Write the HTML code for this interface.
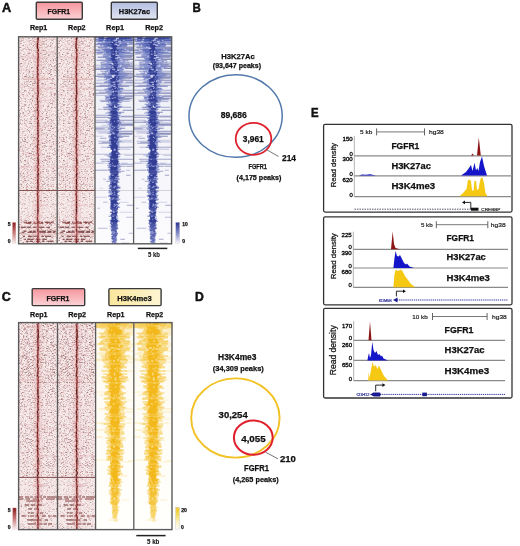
<!DOCTYPE html>
<html><head><meta charset="utf-8"><title>Figure</title>
<style>
html,body{margin:0;padding:0;background:#fff;}
body{width:520px;height:546px;overflow:hidden;}
svg{display:block;font-family:"Liberation Sans", Arial, sans-serif;}
</style></head>
<body>
<svg width="520" height="546" viewBox="0 0 520 546">
<rect width="520" height="546" fill="#fff"/>

<defs>
<filter id="spkM" x="0" y="0" width="100%" height="100%" color-interpolation-filters="sRGB">
  <feTurbulence type="fractalNoise" baseFrequency="0.8 1.4" numOctaves="2" seed="4" result="n1"/>
  <feColorMatrix in="n1" type="matrix" values="0 0 0 0 0.88  0 0 0 0 0.64  0 0 0 0 0.64  1.6 0 0 0 -0.72" result="pink"/>
  <feTurbulence type="fractalNoise" baseFrequency="0.5 1.3" numOctaves="2" seed="54" result="n2"/>
  <feColorMatrix in="n2" type="matrix" values="0 0 0 0 0.55  0 0 0 0 0.36  0 0 0 0 0.36  2.4 0 0 0 -1.25" result="dark"/>
  <feMerge><feMergeNode in="pink"/><feMergeNode in="dark"/></feMerge>
  <feGaussianBlur stdDeviation="0.3"/>
</filter>
<filter id="spkD" x="0" y="0" width="100%" height="100%" color-interpolation-filters="sRGB">
  <feTurbulence type="fractalNoise" baseFrequency="0.8 1.4" numOctaves="2" seed="9" result="n1"/>
  <feColorMatrix in="n1" type="matrix" values="0 0 0 0 0.88  0 0 0 0 0.64  0 0 0 0 0.64  1.9 0 0 0 -0.85" result="pink"/>
  <feTurbulence type="fractalNoise" baseFrequency="0.5 1.3" numOctaves="2" seed="59" result="n2"/>
  <feColorMatrix in="n2" type="matrix" values="0 0 0 0 0.55  0 0 0 0 0.36  0 0 0 0 0.36  2.6 0 0 0 -1.28" result="dark"/>
  <feMerge><feMergeNode in="pink"/><feMergeNode in="dark"/></feMerge>
  <feGaussianBlur stdDeviation="0.3"/>
</filter>
<filter id="spkL" x="0" y="0" width="100%" height="100%" color-interpolation-filters="sRGB">
  <feTurbulence type="fractalNoise" baseFrequency="0.8 1.4" numOctaves="2" seed="6" result="n1"/>
  <feColorMatrix in="n1" type="matrix" values="0 0 0 0 0.88  0 0 0 0 0.64  0 0 0 0 0.64  1.3 0 0 0 -0.59" result="pink"/>
  <feTurbulence type="fractalNoise" baseFrequency="0.5 1.3" numOctaves="2" seed="56" result="n2"/>
  <feColorMatrix in="n2" type="matrix" values="0 0 0 0 0.55  0 0 0 0 0.36  0 0 0 0 0.36  2.2 0 0 0 -1.22" result="dark"/>
  <feMerge><feMergeNode in="pink"/><feMergeNode in="dark"/></feMerge>
  <feGaussianBlur stdDeviation="0.3"/>
</filter>
<linearGradient id="bAg" x1="0" x2="1" y1="0" y2="0">
  <stop offset="0" stop-color="#5060b8" stop-opacity="0"/>
  <stop offset="0.35" stop-color="#5565bb" stop-opacity="0.8"/>
  <stop offset="0.5" stop-color="#2c3c9c" stop-opacity="1"/>
  <stop offset="0.65" stop-color="#5565bb" stop-opacity="0.8"/>
  <stop offset="1" stop-color="#5060b8" stop-opacity="0"/>
</linearGradient>
<linearGradient id="yCg" x1="0" x2="1" y1="0" y2="0">
  <stop offset="0" stop-color="#f5c020" stop-opacity="0"/>
  <stop offset="0.35" stop-color="#f5c020" stop-opacity="0.85"/>
  <stop offset="0.5" stop-color="#f0b000" stop-opacity="1"/>
  <stop offset="0.65" stop-color="#f5c020" stop-opacity="0.85"/>
  <stop offset="1" stop-color="#f5c020" stop-opacity="0"/>
</linearGradient>
<filter id="soft" x="-2%" y="-2%" width="104%" height="104%"><feGaussianBlur stdDeviation="0.45"/></filter>
<linearGradient id="bgB" x1="0" x2="0" y1="0" y2="1">
  <stop offset="0" stop-color="#ecedf6"/><stop offset="0.5" stop-color="#f3f3f9"/><stop offset="1" stop-color="#fcfcfe"/>
</linearGradient>
<linearGradient id="bgY" x1="0" x2="0" y1="0" y2="1">
  <stop offset="0" stop-color="#fdfaee"/><stop offset="1" stop-color="#fffffd"/>
</linearGradient>
<linearGradient id="pinkbox" x1="0" x2="0" y1="0" y2="1">
  <stop offset="0" stop-color="#f5959c"/><stop offset="1" stop-color="#fbd3d6"/>
</linearGradient>
<linearGradient id="bluebox" x1="0" x2="0" y1="0" y2="1">
  <stop offset="0" stop-color="#b4bde0"/><stop offset="1" stop-color="#e2e6f4"/>
</linearGradient>
<linearGradient id="yelbox" x1="0" x2="1" y1="0" y2="0">
  <stop offset="0" stop-color="#fae79c"/><stop offset="1" stop-color="#fdf4d2"/>
</linearGradient>
<linearGradient id="cbR" x1="0" x2="0" y1="0" y2="1">
  <stop offset="0" stop-color="#8a1c1c"/><stop offset="0.5" stop-color="#c87a7a"/><stop offset="1" stop-color="#f8eeee"/>
</linearGradient>
<linearGradient id="cbB" x1="0" x2="0" y1="0" y2="1">
  <stop offset="0" stop-color="#2a3590"/><stop offset="0.5" stop-color="#8088c8"/><stop offset="1" stop-color="#f6f6fc"/>
</linearGradient>
<linearGradient id="cbY" x1="0" x2="0" y1="0" y2="1">
  <stop offset="0" stop-color="#f0c828"/><stop offset="0.35" stop-color="#f4dc60"/><stop offset="0.7" stop-color="#fbf2c8"/><stop offset="1" stop-color="#fdfcf4"/>
</linearGradient>
<g id="rA">
<rect x="0" y="0" width="38.5" height="207" fill="#f7eded"/>
<rect x="0" y="0" width="38.5" height="154" filter="url(#spkM)"/>
<rect x="0" y="154" width="38.5" height="31" filter="url(#spkL)"/>
<rect x="0" y="185" width="38.5" height="22" filter="url(#spkM)"/>
<path fill="#ecd0d0" d="M22.7 15h15.4v1h-15.4zM0.8 20h33.6v1h-33.6zM18.4 54h6.9v1h-6.9zM20.0 63h18.2v1h-18.2zM22.2 102h6.9v1h-6.9zM0.4 130h35.0v1h-35.0z"/>
<path fill="#e6c4c4" d="M10.7 21h14.5v1h-14.5zM9.5 51h27.1v1h-27.1zM9.5 118h10.2v1h-10.2zM13.8 132h5.5v1h-5.5zM13.9 168h13.9v1h-13.9zM1.5 197h36.4v1h-36.4z"/>
<path fill="#dcb4b4" d="M4.8 42h31.0v1h-31.0z"/>
<path fill="#884040" d="M5.0 185h3.5v1h-3.5zM9.5 185h1.3v1h-1.3zM10.8 185h2.1v1h-2.1zM14.9 185h1.2v1h-1.2zM19.1 185h2.1v1h-2.1zM22.2 185h2.2v1h-2.2zM26.4 185h1.1v1h-1.1zM27.5 185h2.6v1h-2.6zM30.1 185h1.1v1h-1.1zM32.2 185h1.9v1h-1.9zM34.2 185h0.8v1h-0.8zM7.5 186h1.5v1h-1.5zM9.0 186h3.5v1h-3.5zM15.5 186h3.6v1h-3.6zM20.1 186h4.8v1h-4.8zM27.9 186h1.8v1h-1.8zM30.7 186h2.0v1h-2.0z"/>
<path fill="#6a3030" d="M0.2 190h1.0v1h-1.0zM2.3 190h3.1v1h-3.1zM5.4 190h1.7v1h-1.7zM8.1 190h4.1v1h-4.1zM14.2 190h3.8v1h-3.8zM20.0 190h3.0v1h-3.0zM23.0 190h2.6v1h-2.6zM28.6 190h2.7v1h-2.7zM5.2 194h2.6v1h-2.6zM10.8 194h2.6v1h-2.6zM14.4 194h2.8v1h-2.8zM20.2 194h4.5v1h-4.5zM24.7 194h2.5v1h-2.5zM29.3 194h3.6v1h-3.6zM34.9 194h2.3v1h-2.3zM4.4 199h2.0v1h-2.0zM9.4 199h4.4v1h-4.4zM14.8 199h3.0v1h-3.0zM17.8 199h2.8v1h-2.8zM22.6 199h2.7v1h-2.7zM26.3 199h2.9v1h-2.9zM29.2 199h1.9v1h-1.9zM31.1 199h1.6v1h-1.6zM5.8 202h1.7v1h-1.7zM8.5 202h3.7v1h-3.7zM12.3 202h2.9v1h-2.9zM17.2 202h4.6v1h-4.6zM23.8 202h4.4v1h-4.4zM7.3 204h2.8v1h-2.8zM11.1 204h3.3v1h-3.3zM17.4 204h1.3v1h-1.3zM18.8 204h2.8v1h-2.8zM23.5 204h2.2v1h-2.2zM28.7 204h3.2v1h-3.2zM31.9 204h3.1v1h-3.1z"/>
<path fill="#7a3838" d="M3.0 195h2.9v1h-2.9zM8.8 195h4.9v1h-4.9zM13.8 195h3.9v1h-3.9zM20.6 195h4.7v1h-4.7zM25.3 195h1.9v1h-1.9zM28.2 195h4.9v1h-4.9zM34.1 195h2.6v1h-2.6z"/>
<rect x="14.8" y="0" width="9" height="207" fill="#e09a9a" opacity="0.14"/>
<rect x="17.1" y="0" width="4.4" height="207" fill="#d07a7a" opacity="0.22"/>
<path fill="#5a1414" d="M18.9 0h1.4v2h-1.4zM18.6 2h1.4v2h-1.4zM18.6 28h1.4v1h-1.4zM18.6 32h1.4v2h-1.4zM18.6 48h1.4v2h-1.4zM18.6 64h1.4v2h-1.4zM18.6 66h1.4v1h-1.4zM18.2 72h1.4v2h-1.4zM18.6 85h1.4v3h-1.4zM18.6 93h1.4v2h-1.4zM18.6 96h1.4v2h-1.4zM18.9 103h1.4v2h-1.4zM18.6 107h1.4v2h-1.4zM18.6 121h1.4v2h-1.4zM18.9 136h1.4v2h-1.4zM18.6 138h1.4v2h-1.4zM18.6 149h1.4v3h-1.4zM18.6 164h1.4v3h-1.4zM18.6 172h1.4v2h-1.4zM18.6 174h1.4v2h-1.4z"/>
<path fill="#8a2a2a" d="M18.6 4h1.4v2h-1.4zM18.9 16h1.4v3h-1.4zM18.6 24h1.4v3h-1.4zM18.2 34h1.4v2h-1.4zM18.2 39h1.4v2h-1.4zM18.6 41h1.4v3h-1.4zM18.2 67h1.4v1h-1.4zM18.9 76h1.4v3h-1.4zM18.6 79h1.4v2h-1.4zM18.6 92h1.4v1h-1.4zM18.6 112h1.4v3h-1.4zM18.2 115h1.4v1h-1.4zM18.9 117h1.4v2h-1.4zM18.9 127h1.4v2h-1.4zM18.2 129h1.4v2h-1.4zM18.9 131h1.4v3h-1.4zM18.6 134h1.4v2h-1.4zM18.9 155h1.4v1h-1.4zM18.6 159h1.4v2h-1.4zM18.6 161h1.4v3h-1.4z"/>
<path fill="#6a1818" d="M18.2 6h1.4v3h-1.4zM18.2 9h1.4v3h-1.4zM18.9 12h1.4v3h-1.4zM18.6 29h1.4v1h-1.4zM18.6 36h1.4v3h-1.4zM18.6 53h1.4v2h-1.4zM18.9 55h1.4v3h-1.4zM18.2 61h1.4v3h-1.4zM18.9 68h1.4v1h-1.4zM18.6 75h1.4v1h-1.4zM18.2 81h1.4v2h-1.4zM18.6 91h1.4v1h-1.4zM18.6 105h1.4v1h-1.4zM18.6 116h1.4v1h-1.4zM18.6 120h1.4v1h-1.4zM18.9 123h1.4v3h-1.4zM18.9 126h1.4v1h-1.4zM18.6 140h1.4v1h-1.4zM18.6 142h1.4v3h-1.4zM18.6 145h1.4v3h-1.4zM18.9 152h1.4v1h-1.4zM18.6 169h1.4v3h-1.4z"/>
<path fill="#7a2020" d="M18.2 15h1.4v1h-1.4zM18.9 19h1.4v2h-1.4zM18.6 21h1.4v3h-1.4zM18.9 27h1.4v1h-1.4zM18.2 30h1.4v2h-1.4zM18.6 44h1.4v2h-1.4zM18.6 46h1.4v2h-1.4zM18.6 50h1.4v2h-1.4zM18.6 52h1.4v1h-1.4zM18.6 58h1.4v3h-1.4zM18.6 69h1.4v2h-1.4zM18.6 71h1.4v1h-1.4zM18.9 74h1.4v1h-1.4zM18.9 83h1.4v2h-1.4zM18.6 88h1.4v3h-1.4zM18.9 95h1.4v1h-1.4zM18.9 98h1.4v3h-1.4zM18.2 101h1.4v2h-1.4zM18.6 106h1.4v1h-1.4zM18.2 109h1.4v3h-1.4zM18.9 119h1.4v1h-1.4zM18.9 141h1.4v1h-1.4zM18.9 148h1.4v1h-1.4zM18.2 153h1.4v2h-1.4zM18.2 156h1.4v1h-1.4zM18.2 157h1.4v2h-1.4zM18.6 167h1.4v2h-1.4z"/>
<path fill="#8a3030" d="M18.6 176h1.4v2h-1.4zM18.2 180h1.4v3h-1.4zM18.6 183h1.4v1h-1.4zM18.6 184h1.4v1h-1.4zM18.9 195h1.4v1h-1.4zM18.6 200h1.4v2h-1.4z"/>
<path fill="#7a2424" d="M18.2 178h1.4v1h-1.4zM18.6 185h1.4v2h-1.4zM18.6 192h1.4v3h-1.4zM18.6 202h1.4v2h-1.4zM18.6 204h1.4v3h-1.4z"/>
<path fill="#a04848" d="M18.6 179h1.4v1h-1.4zM18.6 187h1.4v3h-1.4zM18.6 190h1.4v2h-1.4zM18.9 196h1.4v2h-1.4zM18.6 198h1.4v2h-1.4z"/>
</g>
<g id="rC">
<rect x="0" y="0" width="38.5" height="207" fill="#f7eded"/>
<rect x="0" y="0" width="38.5" height="60" filter="url(#spkD)"/>
<rect x="0" y="60" width="38.5" height="95" filter="url(#spkM)"/>
<rect x="0" y="155" width="38.5" height="52" filter="url(#spkL)"/>
<path fill="#dcb4b4" d="M8.7 4h11.1v1h-11.1zM13.7 163h13.5v1h-13.5z"/>
<path fill="#ecd0d0" d="M18.9 13h5.2v1h-5.2zM6.4 64h13.7v1h-13.7zM7.6 105h27.2v1h-27.2zM17.8 181h10.8v1h-10.8zM18.6 199h8.6v1h-8.6z"/>
<path fill="#e6c4c4" d="M0.6 57h26.9v1h-26.9zM16.4 133h20.4v1h-20.4zM11.3 162h14.3v1h-14.3z"/>
<path fill="#7a3a3a" d="M0.0 174h4.4v1h-4.4zM6.4 174h4.2v1h-4.2zM11.6 174h2.6v1h-2.6zM16.2 174h3.6v1h-3.6zM20.8 174h2.6v1h-2.6zM24.5 174h3.0v1h-3.0zM28.4 174h4.3v1h-4.3zM32.7 174h1.7v1h-1.7zM34.4 174h4.1v1h-4.1z"/>
<path fill="#8a4a4a" d="M0.0 176h4.9v1h-4.9zM6.9 176h4.6v1h-4.6zM14.4 176h4.5v1h-4.5zM21.9 176h2.4v1h-2.4zM27.4 176h4.7v1h-4.7zM32.0 176h4.4v1h-4.4zM37.5 176h1.0v1h-1.0z"/>
<path fill="#884040" d="M7.6 178h4.0v1h-4.0zM11.6 178h3.2v1h-3.2zM14.8 178h1.1v1h-1.1zM15.9 178h1.8v1h-1.8zM17.7 178h3.9v1h-3.9zM22.5 178h0.7v1h-0.7zM2.9 193h4.4v1h-4.4zM9.3 193h1.1v1h-1.1zM11.4 193h1.1v1h-1.1zM12.5 193h3.0v1h-3.0zM16.5 193h3.8v1h-3.8zM23.2 193h4.2v1h-4.2zM29.4 193h2.6v1h-2.6zM34.0 193h2.5v1h-2.5zM36.5 193h1.3v1h-1.3z"/>
<path fill="#6a3030" d="M6.2 182h4.1v1h-4.1zM12.3 182h4.4v1h-4.4zM18.7 182h4.6v1h-4.6zM9.7 186h3.7v1h-3.7zM15.5 186h1.8v1h-1.8zM17.3 186h3.1v1h-3.1zM9.6 190h1.5v1h-1.5zM12.1 190h3.0v1h-3.0zM18.1 190h2.2v1h-2.2zM21.3 190h3.4v1h-3.4zM8.8 197h2.4v1h-2.4zM11.2 197h1.4v1h-1.4zM12.6 197h4.2v1h-4.2zM16.8 197h4.7v1h-4.7zM21.5 197h1.5v1h-1.5zM26.0 197h3.3v1h-3.3zM32.3 197h0.1v1h-0.1z"/>
<path fill="#7a3838" d="M9.4 201h4.4v1h-4.4zM13.8 201h3.4v1h-3.4zM19.2 201h4.7v1h-4.7zM24.9 201h3.5v1h-3.5zM29.4 201h4.0v1h-4.0z"/>
<rect x="14.8" y="0" width="9" height="207" fill="#e09a9a" opacity="0.14"/>
<rect x="17.1" y="0" width="4.4" height="207" fill="#d07a7a" opacity="0.22"/>
<path fill="#7a2020" d="M18.9 0h1.4v2h-1.4zM18.6 3h1.4v2h-1.4zM18.9 45h1.4v2h-1.4zM18.6 48h1.4v3h-1.4zM18.6 51h1.4v1h-1.4zM18.9 54h1.4v2h-1.4zM18.6 64h1.4v2h-1.4zM18.6 84h1.4v2h-1.4zM18.6 91h1.4v2h-1.4zM18.6 96h1.4v2h-1.4zM18.6 98h1.4v1h-1.4zM18.2 100h1.4v3h-1.4zM18.6 130h1.4v1h-1.4zM18.6 131h1.4v2h-1.4zM18.2 156h1.4v2h-1.4zM18.6 158h1.4v2h-1.4zM18.6 169h1.4v3h-1.4zM18.6 173h1.4v3h-1.4z"/>
<path fill="#5a1414" d="M18.2 2h1.4v1h-1.4zM18.9 10h1.4v3h-1.4zM18.9 13h1.4v2h-1.4zM18.6 15h1.4v3h-1.4zM18.9 24h1.4v2h-1.4zM18.6 27h1.4v2h-1.4zM18.6 31h1.4v2h-1.4zM18.6 37h1.4v2h-1.4zM18.6 39h1.4v2h-1.4zM18.6 47h1.4v1h-1.4zM18.2 52h1.4v2h-1.4zM18.6 66h1.4v3h-1.4zM18.6 69h1.4v3h-1.4zM18.9 73h1.4v3h-1.4zM18.9 78h1.4v2h-1.4zM18.2 88h1.4v3h-1.4zM18.6 93h1.4v3h-1.4zM18.2 103h1.4v3h-1.4zM18.2 117h1.4v1h-1.4zM18.6 118h1.4v2h-1.4zM18.6 125h1.4v2h-1.4zM18.9 135h1.4v2h-1.4zM18.6 137h1.4v3h-1.4zM18.2 147h1.4v2h-1.4zM18.9 149h1.4v3h-1.4zM18.2 152h1.4v2h-1.4zM18.6 165h1.4v2h-1.4z"/>
<path fill="#8a2a2a" d="M18.6 5h1.4v1h-1.4zM18.6 20h1.4v2h-1.4zM18.6 22h1.4v2h-1.4zM18.6 29h1.4v2h-1.4zM18.2 33h1.4v2h-1.4zM18.6 35h1.4v2h-1.4zM18.2 41h1.4v2h-1.4zM18.6 56h1.4v2h-1.4zM18.9 58h1.4v3h-1.4zM18.6 61h1.4v3h-1.4zM18.6 76h1.4v2h-1.4zM18.2 83h1.4v1h-1.4zM18.2 99h1.4v1h-1.4zM18.6 106h1.4v3h-1.4zM18.2 112h1.4v3h-1.4zM18.6 115h1.4v2h-1.4zM18.6 120h1.4v2h-1.4zM18.2 133h1.4v2h-1.4zM18.6 142h1.4v3h-1.4zM18.6 161h1.4v2h-1.4z"/>
<path fill="#6a1818" d="M18.6 6h1.4v2h-1.4zM18.9 8h1.4v2h-1.4zM18.6 18h1.4v2h-1.4zM18.9 26h1.4v1h-1.4zM18.2 43h1.4v2h-1.4zM18.6 72h1.4v1h-1.4zM18.6 80h1.4v3h-1.4zM18.9 86h1.4v2h-1.4zM18.2 109h1.4v3h-1.4zM18.2 122h1.4v3h-1.4zM18.2 127h1.4v2h-1.4zM18.6 129h1.4v1h-1.4zM18.6 140h1.4v2h-1.4zM18.6 145h1.4v2h-1.4zM18.6 154h1.4v2h-1.4zM18.2 160h1.4v1h-1.4zM18.9 163h1.4v2h-1.4zM18.6 167h1.4v2h-1.4zM18.9 172h1.4v1h-1.4z"/>
<path fill="#7a2424" d="M18.9 176h1.4v3h-1.4zM18.9 181h1.4v2h-1.4zM18.9 186h1.4v2h-1.4zM18.2 191h1.4v3h-1.4zM18.9 194h1.4v3h-1.4zM18.6 201h1.4v2h-1.4zM18.6 204h1.4v3h-1.4z"/>
<path fill="#8a3030" d="M18.6 179h1.4v2h-1.4zM18.2 183h1.4v3h-1.4zM18.6 188h1.4v2h-1.4zM18.6 197h1.4v2h-1.4zM18.6 199h1.4v2h-1.4zM18.9 203h1.4v1h-1.4z"/>
<path fill="#a04848" d="M18.9 190h1.4v1h-1.4z"/>
</g>
<g id="bA">
<rect width="38.5" height="207" fill="url(#bgB)"/>
<path fill="#a3a7cb" d="M13.4 0h25.1v1h-25.1zM17.0 0h21.5v1h-21.5zM28.5 1h10.0v1h-10.0zM5.0 4h12.5v1h-12.5zM2.8 13h12.9v1h-12.9zM8.7 15h12.6v1h-12.6zM20.4 15h16.2v1h-16.2zM1.7 17h31.5v1h-31.5zM9.2 17h28.1v1h-28.1zM3.0 20h17.4v1h-17.4zM11.8 22h26.7v1h-26.7zM4.6 23h13.8v1h-13.8zM14.2 25h24.3v1h-24.3zM4.8 29h25.3v1h-25.3zM15.7 30h16.2v1h-16.2zM17.8 31h20.7v1h-20.7zM7.4 34h31.1v1h-31.1zM5.2 34h27.0v1h-27.0zM24.1 36h11.9v1h-11.9zM14.0 37h24.5v1h-24.5zM8.6 37h29.9v1h-29.9zM23.2 38h15.3v1h-15.3zM16.6 39h21.8v1h-21.8zM4.6 40h24.5v1h-24.5zM8.8 42h21.6v1h-21.6zM1.7 43h17.1v1h-17.1zM12.5 46h15.8v1h-15.8zM0.0 46h37.1v1h-37.1zM4.6 48h33.9v1h-33.9zM12.7 49h12.5v1h-12.5zM2.3 49h30.0v1h-30.0zM18.0 53h20.5v1h-20.5zM0.5 53h32.1v1h-32.1zM4.1 55h32.6v1h-32.6zM8.6 55h21.2v1h-21.2zM17.0 59h16.8v1h-16.8zM19.8 60h10.7v1h-10.7zM9.6 64h25.1v1h-25.1zM18.8 70h17.6v1h-17.6zM0.0 78h23.3v1h-23.3zM25.6 86h12.9v1h-12.9zM0.0 91h9.7v1h-9.7zM0.0 92h8.3v1h-8.3zM2.5 94h20.2v1h-20.2zM17.1 95h6.8v1h-6.8zM20.4 100h7.5v1h-7.5zM4.9 101h6.5v1h-6.5zM15.3 105h13.5v1h-13.5zM6.7 105h11.0v1h-11.0zM3.6 106h20.8v1h-20.8zM23.9 110h14.6v1h-14.6zM27.0 122h11.5v1h-11.5zM5.3 122h21.3v1h-21.3zM21.8 122h16.7v1h-16.7zM6.4 124h7.1v1h-7.1zM0.0 126h8.7v1h-8.7zM25.1 127h13.4v1h-13.4zM30.9 129h7.6v1h-7.6zM21.7 129h8.6v1h-8.6zM0.0 133h12.5v1h-12.5zM16.3 134h13.3v1h-13.3zM20.5 134h8.5v1h-8.5zM31.2 138h4.3v1h-4.3zM11.2 144h4.4v1h-4.4zM31.7 168h6.8v1h-6.8zM25.3 202h4.6v1h-4.6zM26.3 206h7.8v1h-7.8z"/>
<path fill="#babdd9" d="M0.0 0h17.9v1h-17.9zM11.6 1h20.8v1h-20.8zM16.0 3h22.5v1h-22.5zM1.6 6h17.5v1h-17.5zM0.0 9h29.4v1h-29.4zM3.7 11h34.8v1h-34.8zM1.1 12h37.4v1h-37.4zM4.7 14h20.7v1h-20.7zM16.2 14h22.3v1h-22.3zM19.2 20h17.4v1h-17.4zM14.4 22h24.1v1h-24.1zM12.9 26h24.3v1h-24.3zM5.2 26h24.9v1h-24.9zM6.4 26h32.1v1h-32.1zM16.9 27h21.6v1h-21.6zM0.0 28h14.8v1h-14.8zM27.1 28h11.4v1h-11.4zM0.0 30h32.7v1h-32.7zM2.6 31h31.2v1h-31.2zM14.5 34h18.1v1h-18.1zM28.9 38h9.6v1h-9.6zM0.0 39h16.4v1h-16.4zM3.0 40h27.0v1h-27.0zM0.0 53h29.3v1h-29.3zM18.5 56h20.0v1h-20.0zM0.0 58h23.6v1h-23.6zM30.0 58h8.5v1h-8.5zM8.3 58h19.2v1h-19.2zM16.4 59h22.1v1h-22.1zM25.2 61h13.3v1h-13.3zM9.8 62h23.3v1h-23.3zM4.5 63h26.5v1h-26.5zM3.0 72h9.6v1h-9.6zM19.7 80h18.8v1h-18.8zM0.0 83h12.5v1h-12.5zM9.8 84h19.3v1h-19.3zM0.0 90h20.2v1h-20.2zM0.0 92h20.9v1h-20.9zM7.3 95h7.3v1h-7.3zM4.0 95h18.4v1h-18.4zM21.2 96h11.7v1h-11.7zM3.2 104h16.6v1h-16.6zM32.7 110h5.8v1h-5.8zM5.8 110h17.4v1h-17.4zM18.6 112h16.9v1h-16.9zM0.3 117h24.4v1h-24.4zM29.6 118h8.9v1h-8.9zM9.7 118h12.0v1h-12.0zM26.4 126h6.2v1h-6.2zM14.0 127h16.3v1h-16.3zM5.7 133h12.6v1h-12.6zM31.0 133h4.2v1h-4.2zM8.2 142h2.7v1h-2.7zM14.5 143h8.8v1h-8.8zM15.7 155h3.7v1h-3.7zM8.1 165h4.5v1h-4.5zM2.4 171h2.5v1h-2.5zM31.2 180h7.3v1h-7.3zM3.0 191h9.7v1h-9.7zM33.7 196h4.1v1h-4.1z"/>
<path fill="#d1d3e7" d="M4.8 1h33.7v1h-33.7zM4.8 3h27.6v1h-27.6zM0.1 4h28.9v1h-28.9zM10.9 6h27.6v1h-27.6zM22.1 9h16.4v1h-16.4zM5.2 12h33.3v1h-33.3zM21.2 14h17.3v1h-17.3zM2.9 17h35.6v1h-35.6zM14.8 23h14.6v1h-14.6zM10.3 25h28.2v1h-28.2zM6.3 25h13.0v1h-13.0zM2.8 30h20.9v1h-20.9zM7.2 32h12.4v1h-12.4zM2.8 43h35.7v1h-35.7zM15.6 44h12.2v1h-12.2zM9.1 45h29.4v1h-29.4zM0.0 45h17.6v1h-17.6zM26.5 46h12.0v1h-12.0zM14.4 55h24.1v1h-24.1zM30.3 63h6.0v1h-6.0zM29.2 63h9.3v1h-9.3zM5.2 64h7.5v1h-7.5zM17.6 75h6.7v1h-6.7zM25.1 80h13.4v1h-13.4zM19.0 85h19.5v1h-19.5zM18.3 86h20.2v1h-20.2zM7.2 88h18.2v1h-18.2zM5.3 89h25.4v1h-25.4zM10.9 92h14.8v1h-14.8zM0.0 94h24.9v1h-24.9zM2.5 96h15.3v1h-15.3zM0.0 99h8.3v1h-8.3zM22.8 99h7.7v1h-7.7zM12.7 103h25.1v1h-25.1zM14.0 104h7.5v1h-7.5zM16.3 104h19.9v1h-19.9zM23.0 105h15.5v1h-15.5zM17.4 112h16.2v1h-16.2zM18.3 117h20.2v1h-20.2zM0.0 126h18.6v1h-18.6zM4.8 151h3.2v1h-3.2zM0.0 160h11.8v1h-11.8zM24.6 165h9.1v1h-9.1zM24.7 175h12.6v1h-12.6z"/>
<path fill="#757baf" d="M7.8 2h23.7v1h-23.7zM20.8 3h17.7v1h-17.7zM21.1 5h11.8v1h-11.8zM14.5 5h24.0v1h-24.0zM9.5 5h18.5v1h-18.5zM13.7 10h24.8v1h-24.8zM2.8 10h30.0v1h-30.0zM19.5 10h19.0v1h-19.0zM23.0 13h15.5v1h-15.5zM9.0 16h29.5v1h-29.5zM18.7 22h19.8v1h-19.8zM5.9 27h24.5v1h-24.5zM18.5 29h20.0v1h-20.0zM23.0 31h15.5v1h-15.5zM0.0 32h28.5v1h-28.5z"/>
<path fill="#8c91bd" d="M0.0 2h12.3v1h-12.3zM1.0 4h12.9v1h-12.9zM15.3 6h23.2v1h-23.2zM9.4 9h22.5v1h-22.5zM29.7 11h8.8v1h-8.8zM16.7 11h20.6v1h-20.6zM14.5 12h24.0v1h-24.0zM23.6 13h14.9v1h-14.9zM0.0 15h25.7v1h-25.7zM17.6 16h20.9v1h-20.9zM8.9 16h29.6v1h-29.6zM15.1 18h23.4v1h-23.4zM9.3 19h13.0v1h-13.0zM7.9 19h24.0v1h-24.0zM19.7 19h18.8v1h-18.8zM2.8 20h33.9v1h-33.9zM1.4 23h32.1v1h-32.1zM19.6 27h15.5v1h-15.5zM18.2 28h16.7v1h-16.7zM8.2 29h22.7v1h-22.7zM0.0 32h26.3v1h-26.3zM14.0 36h24.5v1h-24.5zM2.2 37h31.3v1h-31.3zM20.3 38h12.9v1h-12.9zM0.0 39h24.4v1h-24.4zM26.4 40h12.1v1h-12.1zM10.7 41h19.2v1h-19.2zM17.9 41h18.9v1h-18.9zM13.1 43h25.4v1h-25.4zM30.7 45h7.8v1h-7.8zM0.0 49h34.4v1h-34.4zM0.0 56h25.9v1h-25.9zM19.0 56h19.5v1h-19.5zM15.8 59h22.7v1h-22.7zM16.0 61h21.1v1h-21.1zM14.0 62h21.2v1h-21.2zM17.9 62h6.4v1h-6.4zM5.8 64h18.5v1h-18.5zM8.1 70h17.9v1h-17.9zM8.9 72h16.2v1h-16.2zM27.7 73h10.8v1h-10.8zM11.9 75h7.1v1h-7.1zM20.6 75h8.7v1h-8.7zM16.2 76h9.9v1h-9.9zM17.6 79h7.1v1h-7.1zM25.7 79h12.8v1h-12.8zM32.5 79h6.0v1h-6.0zM0.0 80h20.1v1h-20.1zM16.6 83h8.5v1h-8.5zM15.5 83h23.0v1h-23.0zM0.0 85h25.0v1h-25.0zM18.2 87h20.3v1h-20.3zM17.2 88h21.3v1h-21.3zM21.0 88h17.5v1h-17.5zM19.8 91h10.4v1h-10.4zM16.3 94h22.2v1h-22.2zM17.4 96h21.1v1h-21.1zM23.5 97h13.7v1h-13.7zM16.5 99h17.7v1h-17.7z"/>
<path fill="#7581c3" d="M8.0 0h23.6v1h-23.6zM0.8 2h36.9v1h-36.9zM0.0 3h38.5v1h-38.5zM2.7 4h34.8v1h-34.8zM13.1 5h10.7v1h-10.7zM2.7 6h31.3v1h-31.3zM0.0 7h38.5v1h-38.5zM5.3 8h27.2v1h-27.2zM5.7 9h26.0v1h-26.0zM13.4 11h12.4v1h-12.4zM6.1 12h26.1v1h-26.1zM0.0 13h36.7v1h-36.7zM9.8 14h17.1v1h-17.1zM2.6 15h34.5v1h-34.5zM9.4 16h19.1v1h-19.1zM8.8 17h19.6v1h-19.6zM12.0 18h14.1v1h-14.1zM9.9 19h19.8v1h-19.8zM13.5 20h10.2v1h-10.2zM10.2 21h18.8v1h-18.8zM11.7 22h14.1v1h-14.1zM10.6 23h17.7v1h-17.7zM13.5 24h11.9v1h-11.9zM12.3 25h15.0v1h-15.0zM9.6 27h18.8v1h-18.8zM10.9 28h16.7v1h-16.7zM14.2 29h10.6v1h-10.6zM10.8 30h17.3v1h-17.3zM5.9 31h25.4v1h-25.4zM14.5 33h11.2v1h-11.2zM9.7 34h18.1v1h-18.1zM14.1 35h10.8v1h-10.8zM6.9 36h24.3v1h-24.3zM13.4 37h13.3v1h-13.3zM12.4 38h15.6v1h-15.6zM9.2 39h21.9v1h-21.9zM9.3 40h18.8v1h-18.8zM11.2 41h17.2v1h-17.2zM10.5 42h16.0v1h-16.0zM13.3 43h13.9v1h-13.9zM13.9 44h11.1v1h-11.1zM9.1 45h18.7v1h-18.7zM14.5 46h10.2v1h-10.2zM16.3 47h7.4v1h-7.4zM12.8 48h13.0v1h-13.0zM14.1 49h9.7v1h-9.7zM12.4 51h15.6v1h-15.6zM9.4 52h19.8v1h-19.8zM14.0 53h11.3v1h-11.3zM14.2 54h9.7v1h-9.7zM14.5 55h9.3v1h-9.3zM16.2 56h7.5v1h-7.5zM15.8 57h6.6v1h-6.6zM14.5 58h8.9v1h-8.9zM13.8 59h10.7v1h-10.7zM10.7 60h18.1v1h-18.1zM10.3 61h18.0v1h-18.0zM14.2 62h10.0v1h-10.0zM10.3 63h17.1v1h-17.1zM15.2 64h8.0v1h-8.0zM15.0 65h9.7v1h-9.7zM16.4 66h4.1v1h-4.1zM14.3 67h8.5v1h-8.5zM15.4 69h9.2v1h-9.2zM13.0 72h10.8v1h-10.8zM15.6 73h6.7v1h-6.7zM16.4 74h4.7v1h-4.7zM18.0 75h4.1v1h-4.1zM13.7 76h9.3v1h-9.3zM15.1 77h8.2v1h-8.2zM12.8 78h12.7v1h-12.7zM17.7 79h4.0v1h-4.0zM17.6 80h4.3v1h-4.3zM13.3 81h10.7v1h-10.7zM17.4 82h5.6v1h-5.6zM16.5 83h6.2v1h-6.2zM15.0 84h10.0v1h-10.0zM11.2 85h14.8v1h-14.8zM12.3 86h14.2v1h-14.2zM15.8 87h7.1v1h-7.1zM15.8 88h5.7v1h-5.7zM16.9 90h5.0v1h-5.0zM16.6 92h6.6v1h-6.6zM17.5 93h4.0v1h-4.0zM16.7 94h5.7v1h-5.7zM17.5 95h4.8v1h-4.8zM15.4 96h8.4v1h-8.4zM18.5 97h3.2v1h-3.2zM16.6 98h6.6v1h-6.6zM13.3 99h11.8v1h-11.8zM16.9 100h6.6v1h-6.6zM16.4 101h5.9v1h-5.9zM16.9 102h5.1v1h-5.1zM16.2 104h8.1v1h-8.1zM15.3 105h9.1v1h-9.1zM14.2 106h9.4v1h-9.4zM13.7 108h10.5v1h-10.5zM16.6 109h5.9v1h-5.9zM12.4 110h12.8v1h-12.8zM17.0 111h3.9v1h-3.9zM15.7 112h8.8v1h-8.8zM17.9 115h2.8v1h-2.8zM14.4 116h10.5v1h-10.5zM14.0 117h11.6v1h-11.6zM15.6 118h7.3v1h-7.3zM14.7 119h8.2v1h-8.2zM16.5 120h5.3v1h-5.3zM15.3 121h6.2v1h-6.2zM14.8 122h9.2v1h-9.2zM14.9 123h7.6v1h-7.6zM12.8 124h11.4v1h-11.4zM13.3 126h11.7v1h-11.7zM16.4 127h3.9v1h-3.9zM15.8 129h8.0v1h-8.0zM15.3 130h7.5v1h-7.5zM17.3 131h5.6v1h-5.6zM13.3 132h12.6v1h-12.6zM15.5 133h6.8v1h-6.8zM17.1 134h5.6v1h-5.6zM17.3 135h5.6v1h-5.6zM17.8 136h3.4v1h-3.4zM17.1 137h4.7v1h-4.7zM17.5 138h3.5v1h-3.5zM16.6 139h4.9v1h-4.9zM15.8 140h5.4v1h-5.4zM15.7 142h7.1v1h-7.1zM17.0 143h2.6v1h-2.6zM16.5 144h4.5v1h-4.5zM15.0 145h9.4v1h-9.4zM16.5 146h5.2v1h-5.2zM15.3 147h7.1v1h-7.1zM15.5 148h6.4v1h-6.4zM14.8 150h10.7v1h-10.7zM13.7 151h11.6v1h-11.6zM17.6 152h3.6v1h-3.6zM15.2 153h7.2v1h-7.2zM16.2 154h6.7v1h-6.7zM16.7 156h4.1v1h-4.1zM16.7 157h6.2v1h-6.2zM15.6 158h7.2v1h-7.2zM14.9 166h10.0v1h-10.0zM17.1 167h4.6v1h-4.6zM17.3 169h4.2v1h-4.2zM16.4 171h4.8v1h-4.8zM18.9 174h2.6v1h-2.6zM18.0 176h2.6v1h-2.6zM16.1 179h4.5v1h-4.5zM17.6 180h2.4v1h-2.4zM17.8 181h3.8v1h-3.8zM17.1 182h3.1v1h-3.1zM17.5 184h5.2v1h-5.2zM17.8 185h3.1v1h-3.1zM17.7 186h2.9v1h-2.9zM16.9 187h4.8v1h-4.8zM18.5 188h1.9v1h-1.9z"/>
<path fill="#616eb8" d="M13.8 0h12.0v1h-12.0zM0.0 1h38.5v1h-38.5zM8.0 7h23.8v1h-23.8zM14.1 10h9.5v1h-9.5zM10.0 12h18.2v1h-18.2zM9.6 13h17.3v1h-17.3zM13.0 14h10.6v1h-10.6zM14.2 21h11.0v1h-11.0zM15.1 22h7.4v1h-7.4zM14.7 26h10.5v1h-10.5zM9.8 31h17.7v1h-17.7zM13.6 32h11.5v1h-11.5zM13.0 36h12.0v1h-12.0zM14.6 39h11.3v1h-11.3zM13.1 42h10.8v1h-10.8zM13.3 45h10.2v1h-10.2zM17.0 46h5.1v1h-5.1zM15.5 48h7.7v1h-7.7zM15.4 50h7.0v1h-7.0zM15.3 51h9.8v1h-9.8zM16.4 58h5.1v1h-5.1zM14.9 60h9.6v1h-9.6zM13.4 61h11.7v1h-11.7zM13.4 63h10.8v1h-10.8zM16.7 64h4.9v1h-4.9zM14.4 68h8.0v1h-8.0zM14.1 70h9.3v1h-9.3zM16.1 71h5.9v1h-5.9zM15.5 72h5.8v1h-5.8zM16.8 77h4.6v1h-4.6zM15.1 81h6.9v1h-6.9zM17.1 84h5.9v1h-5.9zM14.5 85h8.2v1h-8.2zM15.9 89h7.2v1h-7.2zM16.4 91h7.3v1h-7.3zM15.7 99h7.0v1h-7.0zM17.0 103h4.6v1h-4.6zM17.3 105h4.9v1h-4.9zM16.5 106h4.6v1h-4.6zM17.5 107h5.3v1h-5.3zM16.4 108h4.9v1h-4.9zM14.8 110h8.0v1h-8.0zM17.5 112h5.1v1h-5.1zM18.3 113h3.8v1h-3.8zM18.4 114h3.3v1h-3.3zM16.4 116h6.6v1h-6.6zM17.0 117h5.6v1h-5.6zM17.3 118h3.9v1h-3.9zM16.9 121h3.1v1h-3.1zM17.0 122h5.0v1h-5.0zM16.5 123h4.3v1h-4.3zM14.7 124h7.7v1h-7.7zM17.8 125h3.7v1h-3.7zM16.5 126h5.4v1h-5.4zM15.2 128h6.7v1h-6.7zM16.5 132h6.2v1h-6.2zM16.5 141h4.9v1h-4.9zM16.5 145h6.3v1h-6.3zM17.3 147h3.2v1h-3.2zM15.3 149h7.2v1h-7.2zM17.0 150h6.2v1h-6.2zM16.6 151h5.7v1h-5.7zM18.4 157h2.9v1h-2.9zM14.8 159h7.2v1h-7.2zM17.0 161h4.6v1h-4.6zM16.9 162h5.9v1h-5.9zM16.3 163h6.3v1h-6.3zM17.8 164h3.1v1h-3.1zM18.3 165h2.5v1h-2.5zM17.1 166h5.4v1h-5.4zM17.5 168h3.7v1h-3.7zM17.6 170h4.8v1h-4.8zM17.0 172h3.0v1h-3.0zM18.3 175h2.9v1h-2.9zM17.8 177h3.4v1h-3.4zM16.7 178h3.7v1h-3.7zM16.3 183h5.2v1h-5.2z"/>
<path fill="#4c5bad" d="M6.6 1h24.3v1h-24.3zM7.5 2h23.5v1h-23.5zM2.6 3h35.1v1h-35.1zM10.7 4h18.9v1h-18.9zM10.6 6h15.5v1h-15.5zM12.4 8h13.0v1h-13.0zM10.7 9h15.9v1h-15.9zM9.2 15h21.4v1h-21.4zM13.7 17h9.9v1h-9.9zM13.1 19h13.5v1h-13.5zM14.3 23h10.3v1h-10.3zM14.4 27h9.3v1h-9.3zM12.7 34h12.1v1h-12.1zM16.9 37h6.3v1h-6.3zM12.8 40h11.9v1h-11.9zM15.2 41h9.2v1h-9.2zM15.9 43h8.6v1h-8.6zM13.7 52h11.3v1h-11.3zM17.0 53h5.3v1h-5.3zM16.3 62h6.0v1h-6.0zM14.7 78h8.7v1h-8.7zM15.3 86h8.3v1h-8.3z"/>
<path fill="#8994ce" d="M6.7 5h23.4v1h-23.4zM10.2 10h17.4v1h-17.4zM9.3 11h20.6v1h-20.6zM1.6 16h34.7v1h-34.7zM7.6 18h22.8v1h-22.8zM7.7 20h22.0v1h-22.0zM8.6 24h21.6v1h-21.6zM5.5 25h28.4v1h-28.4zM11.5 26h17.0v1h-17.0zM6.0 28h26.6v1h-26.6zM11.0 29h16.9v1h-16.9zM6.0 30h27.0v1h-27.0zM9.8 32h19.1v1h-19.1zM11.9 33h16.5v1h-16.5zM10.1 35h18.7v1h-18.7zM8.8 38h22.7v1h-22.7zM10.6 44h17.7v1h-17.7zM13.1 47h13.8v1h-13.8zM10.7 49h16.5v1h-16.5zM13.1 50h11.5v1h-11.5zM10.6 54h17.0v1h-17.0zM11.5 55h15.3v1h-15.3zM13.6 56h12.7v1h-12.7zM13.0 57h12.3v1h-12.3zM9.7 59h18.9v1h-18.9zM12.8 65h14.1v1h-14.1zM14.7 66h7.5v1h-7.5zM11.0 67h15.2v1h-15.2zM12.6 68h11.6v1h-11.6zM12.7 69h14.5v1h-14.5zM11.1 70h15.3v1h-15.3zM14.1 71h10.0v1h-10.0zM13.8 73h10.2v1h-10.2zM15.0 74h7.5v1h-7.5zM16.5 75h7.3v1h-7.3zM10.3 76h16.1v1h-16.1zM15.5 79h8.3v1h-8.3zM16.3 80h6.8v1h-6.8zM15.3 82h9.8v1h-9.8zM14.4 83h10.5v1h-10.5zM12.7 87h13.3v1h-13.3zM14.4 88h8.4v1h-8.4zM14.1 89h10.8v1h-10.8zM14.6 90h9.7v1h-9.7zM12.8 91h14.5v1h-14.5zM13.6 92h12.7v1h-12.7zM15.5 93h8.0v1h-8.0zM14.3 94h10.5v1h-10.5zM15.7 95h8.4v1h-8.4zM12.6 96h14.0v1h-14.0zM16.7 97h6.7v1h-6.7zM13.7 98h12.3v1h-12.3zM13.6 100h13.4v1h-13.4zM14.5 101h9.7v1h-9.7zM14.2 102h10.5v1h-10.5zM15.7 103h7.1v1h-7.1zM13.7 104h13.0v1h-13.0zM15.6 107h9.0v1h-9.0zM14.9 109h9.3v1h-9.3zM15.8 111h6.3v1h-6.3zM17.0 113h6.4v1h-6.4zM17.2 114h5.8v1h-5.8zM16.4 115h5.9v1h-5.9zM12.4 119h13.0v1h-13.0zM14.1 120h10.1v1h-10.1zM16.8 125h5.8v1h-5.8zM14.0 127h8.5v1h-8.5zM12.3 128h12.6v1h-12.6zM13.6 129h12.3v1h-12.3zM12.7 130h12.7v1h-12.7zM16.1 131h8.1v1h-8.1zM13.7 133h10.5v1h-10.5zM14.7 134h10.4v1h-10.4zM14.4 135h11.5v1h-11.5zM16.2 136h6.7v1h-6.7zM14.9 137h9.1v1h-9.1zM15.8 138h7.0v1h-7.0zM13.6 139h10.8v1h-10.8zM13.8 140h9.4v1h-9.4zM13.7 141h10.5v1h-10.5zM13.5 142h11.4v1h-11.4zM15.6 143h5.4v1h-5.4zM15.0 144h7.5v1h-7.5zM15.0 146h8.1v1h-8.1zM13.9 148h9.6v1h-9.6zM13.6 149h10.7v1h-10.7zM16.6 152h5.6v1h-5.6zM13.5 153h10.6v1h-10.6zM13.9 154h11.3v1h-11.3zM13.2 155h10.9v1h-10.9zM16.1 155h5.1v1h-5.1zM14.4 156h8.7v1h-8.7zM13.7 158h11.0v1h-11.0zM13.0 159h10.9v1h-10.9zM16.6 160h7.2v1h-7.2zM18.5 160h3.5v1h-3.5zM15.0 161h8.6v1h-8.6zM14.2 162h11.1v1h-11.1zM14.9 163h9.1v1h-9.1zM16.6 164h5.5v1h-5.5zM17.1 165h4.8v1h-4.8zM14.9 167h9.1v1h-9.1zM15.7 168h7.3v1h-7.3zM15.1 169h8.6v1h-8.6zM14.8 170h10.3v1h-10.3zM15.1 171h7.3v1h-7.3zM15.6 172h5.7v1h-5.7zM16.9 173h5.5v1h-5.5zM17.8 173h3.7v1h-3.7zM17.5 174h5.4v1h-5.4zM17.3 175h4.9v1h-4.9zM16.9 176h4.7v1h-4.7zM17.0 177h5.0v1h-5.0zM15.2 178h6.6v1h-6.6zM13.6 179h9.5v1h-9.5zM16.4 180h4.9v1h-4.9zM16.2 181h7.2v1h-7.2zM16.3 182h4.7v1h-4.7zM14.5 183h8.9v1h-8.9zM15.6 184h9.1v1h-9.1zM16.6 185h5.6v1h-5.6zM16.9 186h4.4v1h-4.4zM15.6 187h7.5v1h-7.5zM17.4 188h4.1v1h-4.1zM16.1 189h5.2v1h-5.2zM18.2 190h3.1v1h-3.1zM17.5 191h4.1v1h-4.1zM16.3 192h5.0v1h-5.0zM16.0 193h4.7v1h-4.7zM17.2 193h2.4v1h-2.4zM16.0 194h5.2v1h-5.2zM17.3 194h2.6v1h-2.6zM17.3 195h2.2v1h-2.2zM18.2 196h3.0v1h-3.0zM17.9 197h3.4v1h-3.4zM18.3 198h2.8v1h-2.8zM17.6 199h2.5v1h-2.5zM17.7 200h2.7v1h-2.7zM18.2 201h2.4v1h-2.4z"/>
<path fill="#9ea7d9" d="M14.5 189h8.3v1h-8.3zM16.5 190h6.5v1h-6.5zM15.6 191h7.8v1h-7.8zM14.9 192h7.7v1h-7.7zM16.4 195h3.9v1h-3.9zM16.7 196h6.0v1h-6.0zM16.4 197h6.4v1h-6.4zM17.5 198h4.4v1h-4.4zM16.9 199h3.9v1h-3.9zM16.5 200h5.1v1h-5.1zM17.1 201h4.7v1h-4.7zM18.2 202h3.6v1h-3.6zM18.9 202h2.4v1h-2.4zM18.5 203h2.9v1h-2.9zM19.2 203h1.4v1h-1.4zM16.2 204h5.2v1h-5.2zM17.2 204h3.2v1h-3.2zM17.3 205h3.5v1h-3.5zM17.9 205h2.4v1h-2.4zM16.7 206h5.6v1h-5.6zM17.7 206h3.7v1h-3.7z"/>
<path fill="#313d93" d="M0.0 0h38.5v1h-38.5zM3.9 1h32.0v1h-32.0zM16.1 2h5.2v1h-5.2zM16.0 3h6.2v1h-6.2zM16.7 4h6.4v1h-6.4zM16.3 5h4.8v1h-4.8zM15.1 6h7.4v1h-7.4zM16.6 7h5.6v1h-5.6zM16.7 8h6.5v1h-6.5zM16.4 9h6.4v1h-6.4zM16.5 10h4.8v1h-4.8zM16.5 11h5.1v1h-5.1zM16.5 12h4.9v1h-4.9zM15.6 13h7.7v1h-7.7zM16.5 14h4.7v1h-4.7zM16.5 15h5.4v1h-5.4zM15.9 16h8.1v1h-8.1zM16.1 18h5.3v1h-5.3zM14.5 19h8.1v1h-8.1zM17.3 20h4.8v1h-4.8zM15.9 21h7.1v1h-7.1zM16.0 22h5.3v1h-5.3zM16.9 23h6.2v1h-6.2zM16.8 25h6.1v1h-6.1zM16.2 26h5.6v1h-5.6zM14.7 27h8.2v1h-8.2zM16.1 29h6.7v1h-6.7zM16.3 30h5.5v1h-5.5zM17.1 31h5.0v1h-5.0zM15.6 32h6.6v1h-6.6zM15.2 33h7.7v1h-7.7zM15.0 34h8.5v1h-8.5zM14.9 36h8.5v1h-8.5zM16.3 37h7.3v1h-7.3zM17.1 38h5.3v1h-5.3zM17.3 39h5.0v1h-5.0zM15.7 40h8.2v1h-8.2zM17.3 41h5.0v1h-5.0zM15.4 42h8.5v1h-8.5zM15.5 43h8.4v1h-8.4zM15.4 44h7.0v1h-7.0zM17.5 45h5.0v1h-5.0zM15.3 46h8.4v1h-8.4zM16.1 47h5.9v1h-5.9zM16.3 48h6.3v1h-6.3zM17.1 49h5.8v1h-5.8zM16.8 50h6.5v1h-6.5zM15.5 51h6.2v1h-6.2zM16.2 52h5.5v1h-5.5zM15.5 53h7.2v1h-7.2zM17.3 55h5.3v1h-5.3zM16.6 56h6.5v1h-6.5zM15.2 59h7.3v1h-7.3zM14.8 60h8.2v1h-8.2zM14.8 62h7.9v1h-7.9zM15.9 63h7.2v1h-7.2zM15.6 64h8.6v1h-8.6zM17.4 66h4.9v1h-4.9zM17.3 68h4.8v1h-4.8zM14.2 69h8.6v1h-8.6zM15.7 70h8.4v1h-8.4zM16.8 71h5.2v1h-5.2zM16.1 72h6.6v1h-6.6zM15.6 74h6.3v1h-6.3zM14.7 75h8.2v1h-8.2zM16.3 76h6.0v1h-6.0zM17.0 77h5.6v1h-5.6zM16.6 79h5.5v1h-5.5zM16.1 80h7.8v1h-7.8zM15.9 82h8.1v1h-8.1zM14.8 83h7.4v1h-7.4zM16.4 84h5.3v1h-5.3zM15.2 85h7.1v1h-7.1zM15.4 86h8.8v1h-8.8zM16.6 87h6.0v1h-6.0zM16.6 88h6.3v1h-6.3zM16.2 89h5.5v1h-5.5zM16.6 91h5.3v1h-5.3zM16.2 92h7.6v1h-7.6zM15.5 94h7.9v1h-7.9zM15.2 95h8.6v1h-8.6zM16.8 96h6.0v1h-6.0zM16.1 98h5.9v1h-5.9zM15.3 99h6.5v1h-6.5zM15.8 100h8.0v1h-8.0zM16.5 101h6.1v1h-6.1zM15.7 102h7.1v1h-7.1zM14.2 103h8.7v1h-8.7zM16.0 104h6.2v1h-6.2zM16.3 105h5.2v1h-5.2zM16.2 106h6.5v1h-6.5zM16.6 107h4.9v1h-4.9zM14.4 108h8.2v1h-8.2zM15.7 109h7.0v1h-7.0zM15.5 110h7.4v1h-7.4zM15.6 111h6.7v1h-6.7zM16.2 112h7.1v1h-7.1zM17.1 113h5.2v1h-5.2zM17.0 114h5.5v1h-5.5zM16.0 115h7.9v1h-7.9zM16.9 116h5.4v1h-5.4zM16.0 117h7.7v1h-7.7zM17.0 118h5.8v1h-5.8zM15.4 119h7.4v1h-7.4zM15.4 120h7.7v1h-7.7zM15.7 121h7.0v1h-7.0zM15.0 123h8.0v1h-8.0zM16.0 124h7.6v1h-7.6zM15.0 125h8.5v1h-8.5zM14.5 126h8.5v1h-8.5zM16.3 127h7.4v1h-7.4zM15.5 128h6.5v1h-6.5zM14.7 130h7.8v1h-7.8zM15.2 131h7.8v1h-7.8zM15.4 132h6.3v1h-6.3zM15.3 133h6.9v1h-6.9zM16.7 137h6.4v1h-6.4zM15.5 138h6.7v1h-6.7zM15.4 139h8.0v1h-8.0zM16.0 140h5.0v1h-5.0zM15.0 141h7.0v1h-7.0zM15.3 143h7.6v1h-7.6zM16.3 145h5.8v1h-5.8zM16.7 146h4.9v1h-4.9zM14.9 147h7.2v1h-7.2zM16.5 148h5.6v1h-5.6zM17.2 149h4.8v1h-4.8zM16.3 150h7.1v1h-7.1zM16.3 152h4.8v1h-4.8zM16.1 153h6.1v1h-6.1zM16.8 154h5.7v1h-5.7zM17.0 155h5.8v1h-5.8zM17.2 156h4.7v1h-4.7zM17.0 157h5.1v1h-5.1zM14.9 159h7.3v1h-7.3zM15.4 160h7.7v1h-7.7zM15.9 163h6.5v1h-6.5zM15.4 164h6.1v1h-6.1zM15.8 165h6.5v1h-6.5zM16.0 166h7.0v1h-7.0zM16.3 167h4.7v1h-4.7zM15.9 168h5.5v1h-5.5zM15.5 169h6.5v1h-6.5zM16.3 170h7.1v1h-7.1zM15.6 171h7.5v1h-7.5zM17.1 173h4.7v1h-4.7zM15.2 175h7.5v1h-7.5zM17.0 176h5.3v1h-5.3zM15.9 177h5.8v1h-5.8zM16.2 179h4.8v1h-4.8zM16.8 180h4.5v1h-4.5zM16.5 181h4.4v1h-4.4zM16.9 182h4.9v1h-4.9zM15.7 183h7.2v1h-7.2zM15.6 184h7.0v1h-7.0zM15.7 185h6.8v1h-6.8zM16.4 188h6.2v1h-6.2z"/>
<path fill="#3f4a9d" d="M15.9 17h6.7v1h-6.7zM17.3 24h5.3v1h-5.3zM16.5 28h6.4v1h-6.4zM15.3 35h8.0v1h-8.0zM16.8 54h5.3v1h-5.3zM16.8 57h5.6v1h-5.6zM16.2 58h6.1v1h-6.1zM17.0 61h5.9v1h-5.9zM15.9 65h7.0v1h-7.0zM16.5 67h7.0v1h-7.0zM16.2 73h5.0v1h-5.0zM14.7 78h8.2v1h-8.2zM15.7 81h6.7v1h-6.7zM15.7 90h7.9v1h-7.9zM15.5 93h6.2v1h-6.2zM16.2 97h6.6v1h-6.6zM15.2 122h7.3v1h-7.3zM16.1 129h6.4v1h-6.4zM15.2 134h7.8v1h-7.8zM15.1 135h8.4v1h-8.4zM15.8 136h7.8v1h-7.8zM15.7 142h5.5v1h-5.5zM16.5 144h6.9v1h-6.9zM14.6 151h8.2v1h-8.2zM14.8 158h7.4v1h-7.4zM16.4 161h4.8v1h-4.8zM16.0 162h5.6v1h-5.6zM15.7 172h7.3v1h-7.3zM16.6 174h4.3v1h-4.3zM16.1 178h6.3v1h-6.3zM15.0 186h7.1v1h-7.1zM16.0 187h5.4v1h-5.4zM17.2 191h5.6v1h-5.6zM16.2 193h5.3v1h-5.3z"/>
<path fill="#4d57a7" d="M16.4 189h4.5v1h-4.5zM15.9 190h6.0v1h-6.0zM17.0 192h4.4v1h-4.4zM18.2 194h3.7v1h-3.7zM18.1 195h3.8v1h-3.8z"/>
<path fill="#5b64b1" d="M17.1 196h5.7v1h-5.7zM16.2 197h5.4v1h-5.4zM18.0 198h4.2v1h-4.2zM16.5 199h5.2v1h-5.2zM16.9 200h4.1v1h-4.1zM16.2 201h5.0v1h-5.0zM16.8 202h4.7v1h-4.7z"/>
<path fill="#6971bb" d="M18.1 203h3.8v1h-3.8zM16.9 204h4.1v1h-4.1zM17.2 205h3.6v1h-3.6zM18.6 206h2.9v1h-2.9z"/>
<path fill="#d0d4ee" d="M9.0 0h3.0v1h-3.0zM0.3 1h3.0v1h-3.0zM21.0 1h3.0v1h-3.0zM8.7 2h2.0v1h-2.0zM20.8 2h1.0v1h-1.0zM19.2 3h3.0v1h-3.0zM28.2 3h1.5v1h-1.5zM2.3 3h1.0v1h-1.0zM7.9 4h2.0v1h-2.0zM23.1 4h3.0v1h-3.0zM16.7 5h1.5v1h-1.5zM24.3 6h2.0v1h-2.0zM31.9 6h2.0v1h-2.0zM21.1 7h1.0v1h-1.0zM19.7 7h2.0v1h-2.0zM37.6 7h0.9v1h-0.9zM7.3 8h1.0v1h-1.0zM21.7 8h3.0v1h-3.0zM6.6 9h1.5v1h-1.5zM12.6 10h1.5v1h-1.5zM14.7 11h3.0v1h-3.0zM29.7 12h1.5v1h-1.5zM32.1 13h1.5v1h-1.5zM5.3 13h3.0v1h-3.0zM20.3 14h1.5v1h-1.5zM9.9 15h1.0v1h-1.0zM35.1 15h3.0v1h-3.0zM7.6 16h2.0v1h-2.0zM20.9 16h1.0v1h-1.0zM17.7 17h1.0v1h-1.0zM20.3 18h3.0v1h-3.0zM13.6 19h2.0v1h-2.0zM22.3 20h3.0v1h-3.0zM20.0 21h3.0v1h-3.0zM24.4 22h3.0v1h-3.0zM21.6 23h1.0v1h-1.0zM25.2 24h3.0v1h-3.0zM8.6 25h3.0v1h-3.0zM30.4 25h1.0v1h-1.0zM15.2 26h3.0v1h-3.0zM16.6 27h2.0v1h-2.0zM25.3 28h1.5v1h-1.5zM24.5 29h1.5v1h-1.5zM8.5 30h2.0v1h-2.0zM16.7 30h2.0v1h-2.0zM27.4 31h3.0v1h-3.0zM17.1 32h3.0v1h-3.0zM22.0 33h2.0v1h-2.0zM13.1 34h1.5v1h-1.5zM11.6 35h1.0v1h-1.0zM11.4 36h2.0v1h-2.0zM17.1 38h3.0v1h-3.0zM16.7 39h3.0v1h-3.0zM17.1 40h2.0v1h-2.0zM14.9 41h2.0v1h-2.0zM11.8 42h3.0v1h-3.0zM24.0 43h1.5v1h-1.5zM22.4 44h1.0v1h-1.0zM17.5 45h2.0v1h-2.0zM18.4 47h2.0v1h-2.0zM18.5 49h2.0v1h-2.0zM19.6 51h1.0v1h-1.0zM27.9 52h1.0v1h-1.0zM17.5 54h1.5v1h-1.5zM17.7 55h1.0v1h-1.0zM26.2 59h2.0v1h-2.0zM19.5 60h1.0v1h-1.0zM13.6 61h1.5v1h-1.5zM10.3 63h1.0v1h-1.0zM14.2 65h1.5v1h-1.5zM25.0 67h1.0v1h-1.0zM19.0 69h1.5v1h-1.5zM19.2 70h3.0v1h-3.0zM10.5 76h3.0v1h-3.0zM12.2 85h1.0v1h-1.0zM12.5 86h2.0v1h-2.0zM23.2 91h1.5v1h-1.5zM17.6 96h2.0v1h-2.0zM19.3 100h1.0v1h-1.0z"/>
<path fill="#9ca4da" d="M17.7 3h1.5v1h-1.5zM19.2 4h1.0v1h-1.0zM20.4 5h1.5v1h-1.5zM19.3 7h1.5v1h-1.5zM17.6 14h1.0v1h-1.0zM20.6 15h1.0v1h-1.0zM20.3 21h2.0v1h-2.0zM19.7 26h1.0v1h-1.0zM16.8 29h1.0v1h-1.0zM18.8 33h1.0v1h-1.0zM20.4 34h1.5v1h-1.5zM19.5 38h2.0v1h-2.0zM21.2 40h1.5v1h-1.5zM21.0 42h1.0v1h-1.0zM22.3 43h2.0v1h-2.0zM20.2 44h1.5v1h-1.5zM18.9 45h1.5v1h-1.5zM16.1 48h2.0v1h-2.0zM17.5 49h1.5v1h-1.5zM20.5 50h1.0v1h-1.0zM16.7 52h1.5v1h-1.5zM15.7 53h1.0v1h-1.0zM19.8 54h2.0v1h-2.0zM18.4 58h1.0v1h-1.0zM17.0 61h1.5v1h-1.5zM17.9 65h1.0v1h-1.0zM19.1 68h1.0v1h-1.0zM21.8 69h2.0v1h-2.0zM17.5 70h1.0v1h-1.0zM16.3 72h1.0v1h-1.0zM19.1 84h1.0v1h-1.0zM16.2 86h1.0v1h-1.0zM16.9 89h1.5v1h-1.5zM19.0 90h1.0v1h-1.0zM18.3 91h1.0v1h-1.0zM16.4 92h1.5v1h-1.5zM15.6 94h1.5v1h-1.5zM17.1 95h2.0v1h-2.0zM20.6 101h1.0v1h-1.0zM19.4 104h1.0v1h-1.0zM21.1 106h1.5v1h-1.5zM18.7 112h2.0v1h-2.0zM18.6 113h2.0v1h-2.0zM20.8 116h2.0v1h-2.0zM16.7 122h1.5v1h-1.5zM16.8 126h1.0v1h-1.0zM17.5 128h1.0v1h-1.0zM18.8 129h2.0v1h-2.0zM16.8 138h2.0v1h-2.0zM20.2 140h1.5v1h-1.5zM19.8 142h1.5v1h-1.5zM16.5 143h1.0v1h-1.0zM18.5 145h2.0v1h-2.0zM19.3 149h2.0v1h-2.0zM18.1 150h2.0v1h-2.0zM18.7 155h1.5v1h-1.5zM17.0 156h1.0v1h-1.0zM18.7 157h1.5v1h-1.5zM17.4 161h2.0v1h-2.0zM16.7 162h1.0v1h-1.0zM18.9 167h1.5v1h-1.5zM19.5 168h1.5v1h-1.5zM18.4 169h1.5v1h-1.5zM20.9 170h1.5v1h-1.5zM17.5 174h1.5v1h-1.5zM17.9 175h2.0v1h-2.0zM17.3 179h2.0v1h-2.0zM18.7 182h1.0v1h-1.0zM16.3 186h1.5v1h-1.5zM18.5 194h1.0v1h-1.0zM18.9 195h1.0v1h-1.0zM17.7 196h2.0v1h-2.0zM18.1 200h1.5v1h-1.5zM19.9 201h1.5v1h-1.5zM20.2 204h1.5v1h-1.5zM17.9 205h1.0v1h-1.0zM19.2 206h2.0v1h-2.0z"/>
</g>
<g id="yC">
<rect width="38.5" height="207" fill="url(#bgY)"/>
<path fill="#f6d46c" d="M9.8 0h14.6v1h-14.6zM4.2 0h14.6v1h-14.6zM0.0 2h31.7v1h-31.7zM23.3 2h15.2v1h-15.2z"/>
<path fill="#f9e29e" d="M13.7 0h24.8v1h-24.8zM21.2 1h17.3v1h-17.3zM22.1 6h16.4v1h-16.4zM24.0 8h14.5v1h-14.5zM2.2 10h36.3v1h-36.3zM26.0 10h12.5v1h-12.5zM12.4 11h18.2v1h-18.2zM3.8 30h23.4v1h-23.4zM0.0 37h24.0v1h-24.0zM13.4 45h17.3v1h-17.3zM14.1 48h12.1v1h-12.1zM22.3 57h10.8v1h-10.8zM18.5 89h10.9v1h-10.9zM21.9 90h5.6v1h-5.6zM18.4 93h10.2v1h-10.2zM22.9 110h5.8v1h-5.8zM12.7 137h5.9v1h-5.9z"/>
<path fill="#f7db85" d="M3.4 1h17.2v1h-17.2zM16.0 1h22.5v1h-22.5zM15.7 2h22.8v1h-22.8zM3.1 3h14.6v1h-14.6zM21.8 3h12.9v1h-12.9zM23.0 3h15.5v1h-15.5z"/>
<path fill="#fbeab7" d="M0.0 4h33.9v1h-33.9zM22.7 5h15.8v1h-15.8zM18.4 7h20.1v1h-20.1zM8.1 10h30.4v1h-30.4zM25.9 12h12.6v1h-12.6zM7.7 18h13.1v1h-13.1zM15.1 21h23.4v1h-23.4zM0.0 21h17.1v1h-17.1zM9.7 23h28.8v1h-28.8zM17.7 25h17.8v1h-17.8zM12.7 28h25.8v1h-25.8zM5.8 28h32.7v1h-32.7zM0.8 31h13.6v1h-13.6zM14.4 34h24.1v1h-24.1zM21.6 36h16.9v1h-16.9zM0.9 36h35.5v1h-35.5zM13.3 39h25.2v1h-25.2zM25.8 48h12.7v1h-12.7zM22.6 48h14.9v1h-14.9zM23.3 57h9.9v1h-9.9zM4.0 72h9.5v1h-9.5zM23.0 79h4.2v1h-4.2zM16.4 84h15.0v1h-15.0zM12.4 86h18.6v1h-18.6zM3.1 86h12.3v1h-12.3zM28.9 86h9.6v1h-9.6zM24.5 89h14.0v1h-14.0zM21.2 92h7.9v1h-7.9zM0.0 100h17.8v1h-17.8zM30.4 100h4.9v1h-4.9zM5.3 101h10.1v1h-10.1zM0.6 107h12.1v1h-12.1zM0.0 114h7.1v1h-7.1zM16.5 117h14.1v1h-14.1zM14.4 117h12.6v1h-12.6zM12.1 128h16.6v1h-16.6zM23.1 137h4.2v1h-4.2zM32.2 138h6.3v1h-6.3zM21.6 153h10.4v1h-10.4zM12.6 168h2.6v1h-2.6zM12.8 197h10.4v1h-10.4z"/>
<path fill="#fcf1d0" d="M3.2 4h24.2v1h-24.2zM26.5 4h12.0v1h-12.0zM2.8 5h25.1v1h-25.1zM6.3 5h25.6v1h-25.6zM5.9 7h32.6v1h-32.6zM7.3 11h12.8v1h-12.8zM9.0 11h26.1v1h-26.1zM12.4 21h16.9v1h-16.9zM10.8 22h13.5v1h-13.5zM22.9 22h15.6v1h-15.6zM0.8 22h25.4v1h-25.4zM12.8 28h25.7v1h-25.7zM15.9 35h22.6v1h-22.6zM9.5 47h11.3v1h-11.3zM15.9 56h10.2v1h-10.2zM0.0 69h13.9v1h-13.9zM14.7 70h14.6v1h-14.6zM16.7 77h4.3v1h-4.3zM21.3 77h14.7v1h-14.7zM21.8 96h14.7v1h-14.7zM0.0 137h10.6v1h-10.6zM24.1 139h11.4v1h-11.4zM26.2 177h7.0v1h-7.0z"/>
<path fill="#f5c337" d="M1.4 0h35.4v1h-35.4zM4.9 2h26.9v1h-26.9zM0.0 4h38.5v1h-38.5zM10.1 6h18.7v1h-18.7zM3.0 21h31.0v1h-31.0zM4.0 27h29.6v1h-29.6zM13.4 47h11.5v1h-11.5zM11.8 53h16.4v1h-16.4zM13.9 62h10.8v1h-10.8zM9.4 63h18.9v1h-18.9zM10.1 69h16.8v1h-16.8zM8.8 71h19.5v1h-19.5z"/>
<path fill="#f6ca4d" d="M0.0 1h38.5v1h-38.5zM0.0 3h38.5v1h-38.5zM9.9 7h17.6v1h-17.6zM9.0 9h19.1v1h-19.1zM3.9 11h30.4v1h-30.4zM5.8 13h28.6v1h-28.6zM2.9 14h31.1v1h-31.1zM9.8 16h19.7v1h-19.7zM7.2 17h22.8v1h-22.8zM3.6 20h29.8v1h-29.8zM12.4 22h15.7v1h-15.7zM7.7 23h25.0v1h-25.0zM12.7 24h14.7v1h-14.7zM3.9 25h30.6v1h-30.6zM9.9 28h20.5v1h-20.5zM9.9 31h17.2v1h-17.2zM9.2 32h20.7v1h-20.7zM9.3 36h21.4v1h-21.4zM6.7 37h25.9v1h-25.9zM12.7 39h11.5v1h-11.5zM9.7 41h19.9v1h-19.9zM7.8 44h23.5v1h-23.5zM11.2 45h15.9v1h-15.9zM5.9 48h25.7v1h-25.7zM13.1 50h11.9v1h-11.9zM10.3 52h16.9v1h-16.9zM6.0 54h26.2v1h-26.2zM10.9 57h16.6v1h-16.6zM10.5 60h16.0v1h-16.0zM13.4 61h12.7v1h-12.7zM11.6 64h17.0v1h-17.0zM12.7 66h12.0v1h-12.0zM14.1 67h11.7v1h-11.7zM13.8 73h10.4v1h-10.4zM8.0 76h21.2v1h-21.2zM14.6 77h10.2v1h-10.2zM14.0 78h11.8v1h-11.8zM8.8 79h22.5v1h-22.5zM9.8 81h19.6v1h-19.6zM11.3 82h15.8v1h-15.8zM12.1 83h14.7v1h-14.7zM8.9 85h21.3v1h-21.3zM10.6 87h17.8v1h-17.8zM15.4 88h9.5v1h-9.5zM8.8 91h20.6v1h-20.6zM9.8 94h20.9v1h-20.9zM12.8 95h14.1v1h-14.1zM8.9 96h19.1v1h-19.1zM8.2 101h21.4v1h-21.4zM11.2 103h18.1v1h-18.1zM12.1 104h14.7v1h-14.7zM14.1 106h10.7v1h-10.7zM8.6 109h19.9v1h-19.9zM13.8 110h10.2v1h-10.2zM10.8 111h18.0v1h-18.0zM14.9 112h9.5v1h-9.5zM12.8 116h11.0v1h-11.0zM10.5 120h16.6v1h-16.6zM12.0 122h15.6v1h-15.6zM11.1 124h16.9v1h-16.9zM15.7 126h9.1v1h-9.1zM11.7 127h16.7v1h-16.7zM10.6 128h16.2v1h-16.2zM12.8 129h11.0v1h-11.0zM10.1 131h17.6v1h-17.6zM10.8 137h16.5v1h-16.5zM15.0 139h8.3v1h-8.3zM15.7 142h8.7v1h-8.7zM12.0 144h15.6v1h-15.6zM13.2 145h11.9v1h-11.9zM12.9 148h12.6v1h-12.6zM14.3 149h10.6v1h-10.6zM12.1 151h15.2v1h-15.2zM14.4 152h10.1v1h-10.1zM15.3 153h6.8v1h-6.8zM16.3 154h6.2v1h-6.2zM15.1 156h10.0v1h-10.0zM14.2 157h11.6v1h-11.6zM14.2 160h10.0v1h-10.0zM13.9 161h11.3v1h-11.3zM13.0 163h12.7v1h-12.7z"/>
<path fill="#f7d063" d="M4.5 5h30.5v1h-30.5zM8.8 8h20.1v1h-20.1zM7.3 10h25.8v1h-25.8zM5.4 12h26.5v1h-26.5zM4.1 15h29.9v1h-29.9zM5.0 18h29.2v1h-29.2zM5.3 19h29.8v1h-29.8zM4.2 26h30.0v1h-30.0zM10.5 29h19.0v1h-19.0zM10.5 30h19.0v1h-19.0zM4.9 33h29.2v1h-29.2zM9.2 34h20.1v1h-20.1zM6.4 35h24.5v1h-24.5zM6.7 38h25.3v1h-25.3zM8.0 40h23.8v1h-23.8zM11.0 42h17.3v1h-17.3zM8.0 43h20.8v1h-20.8zM12.1 46h12.9v1h-12.9zM13.8 49h11.8v1h-11.8zM7.5 51h24.2v1h-24.2zM6.6 55h26.0v1h-26.0zM9.7 56h20.5v1h-20.5zM7.0 58h24.0v1h-24.0zM7.9 59h21.6v1h-21.6zM9.7 65h20.5v1h-20.5zM11.8 68h14.3v1h-14.3zM8.8 70h21.8v1h-21.8zM11.7 72h16.0v1h-16.0zM12.3 74h15.5v1h-15.5zM9.0 75h21.5v1h-21.5zM12.1 80h16.0v1h-16.0zM9.5 84h19.5v1h-19.5zM14.0 86h10.3v1h-10.3zM13.2 89h10.3v1h-10.3zM12.2 90h13.6v1h-13.6zM13.9 92h9.9v1h-9.9zM10.6 93h17.6v1h-17.6zM13.1 97h11.8v1h-11.8zM10.3 98h18.8v1h-18.8zM14.9 99h9.6v1h-9.6zM13.1 100h11.3v1h-11.3zM13.2 102h11.9v1h-11.9zM9.6 105h18.9v1h-18.9zM10.8 107h16.8v1h-16.8zM12.7 108h11.5v1h-11.5zM12.0 113h14.1v1h-14.1zM16.0 114h8.4v1h-8.4zM9.5 115h20.4v1h-20.4zM12.1 117h15.4v1h-15.4zM10.8 118h15.2v1h-15.2zM13.7 119h11.3v1h-11.3zM14.6 121h11.1v1h-11.1zM13.1 123h14.1v1h-14.1zM12.0 125h12.8v1h-12.8zM10.6 130h18.2v1h-18.2zM14.6 132h7.5v1h-7.5zM11.9 133h14.4v1h-14.4zM10.9 134h16.9v1h-16.9zM12.4 135h12.7v1h-12.7zM10.6 136h16.8v1h-16.8zM15.8 138h7.8v1h-7.8zM14.3 140h10.3v1h-10.3zM14.5 141h10.9v1h-10.9zM12.8 143h14.6v1h-14.6zM15.6 146h8.3v1h-8.3zM11.3 147h13.9v1h-13.9zM12.1 150h13.6v1h-13.6zM14.0 155h8.9v1h-8.9zM15.4 158h6.2v1h-6.2zM13.6 159h13.2v1h-13.2zM13.5 162h9.7v1h-9.7zM15.4 164h7.4v1h-7.4zM15.4 166h9.1v1h-9.1zM13.9 167h12.4v1h-12.4zM13.9 168h9.7v1h-9.7zM16.0 169h7.9v1h-7.9zM13.6 170h11.5v1h-11.5zM15.0 172h10.2v1h-10.2zM14.9 173h7.8v1h-7.8z"/>
<path fill="#f8d679" d="M15.9 165h6.3v1h-6.3zM13.1 171h11.6v1h-11.6zM14.3 174h10.3v1h-10.3zM16.0 175h6.9v1h-6.9zM14.7 176h8.9v1h-8.9zM15.8 177h8.7v1h-8.7zM14.9 178h9.1v1h-9.1zM13.7 179h9.8v1h-9.8zM14.9 180h8.5v1h-8.5zM17.1 181h4.2v1h-4.2zM17.9 183h4.1v1h-4.1z"/>
<path fill="#f9dd8f" d="M18.0 182h3.9v1h-3.9zM16.4 184h7.7v1h-7.7zM15.9 185h6.6v1h-6.6zM17.3 186h3.9v1h-3.9zM16.1 187h7.4v1h-7.4zM16.8 188h6.4v1h-6.4zM16.2 189h5.1v1h-5.1zM16.4 190h4.6v1h-4.6zM16.2 191h5.7v1h-5.7zM16.9 192h4.4v1h-4.4zM17.2 193h5.1v1h-5.1zM17.9 194h3.3v1h-3.3zM15.9 195h5.2v1h-5.2zM18.6 196h3.0v1h-3.0zM18.1 198h3.7v1h-3.7z"/>
<path fill="#f3b91f" d="M12.9 0h13.9v1h-13.9zM14.6 1h9.8v1h-9.8zM12.3 2h13.2v1h-13.2zM12.7 4h13.2v1h-13.2zM14.0 5h9.8v1h-9.8zM13.7 6h10.1v1h-10.1zM13.4 7h11.7v1h-11.7zM11.6 8h14.5v1h-14.5zM13.0 9h13.6v1h-13.6zM12.5 10h13.0v1h-13.0zM12.5 11h14.5v1h-14.5zM15.4 12h8.4v1h-8.4zM14.7 14h10.5v1h-10.5zM14.5 16h9.5v1h-9.5zM14.3 17h9.2v1h-9.2zM14.4 18h9.9v1h-9.9zM15.5 19h9.1v1h-9.1zM13.8 20h11.5v1h-11.5zM13.5 22h12.8v1h-12.8zM12.2 23h14.3v1h-14.3zM13.4 24h11.3v1h-11.3zM13.9 25h10.7v1h-10.7zM13.7 26h11.2v1h-11.2zM14.4 27h9.5v1h-9.5zM13.5 28h12.4v1h-12.4zM13.8 29h9.6v1h-9.6zM12.5 32h13.7v1h-13.7zM13.3 33h10.8v1h-10.8zM14.2 34h11.4v1h-11.4zM12.9 35h11.6v1h-11.6zM14.3 36h11.3v1h-11.3zM15.3 37h9.4v1h-9.4zM15.7 38h8.1v1h-8.1zM14.3 39h9.6v1h-9.6zM13.1 40h13.0v1h-13.0zM15.1 42h9.3v1h-9.3zM14.3 43h11.1v1h-11.1zM14.7 44h10.2v1h-10.2zM15.4 45h7.7v1h-7.7zM15.4 46h8.6v1h-8.6zM13.4 47h12.1v1h-12.1zM14.3 48h9.0v1h-9.0zM12.6 49h11.7v1h-11.7zM15.0 50h8.3v1h-8.3zM13.6 51h13.0v1h-13.0zM12.6 52h12.8v1h-12.8zM15.3 53h9.0v1h-9.0zM15.8 54h7.4v1h-7.4zM12.6 55h13.0v1h-13.0zM14.9 56h8.2v1h-8.2zM13.0 57h11.3v1h-11.3zM12.4 58h12.8v1h-12.8zM15.0 59h9.2v1h-9.2zM14.4 61h10.3v1h-10.3zM12.9 62h11.9v1h-11.9zM15.6 63h7.9v1h-7.9zM14.5 64h9.2v1h-9.2zM13.4 65h11.5v1h-11.5zM13.3 66h10.8v1h-10.8zM16.0 67h7.5v1h-7.5zM12.8 68h11.3v1h-11.3zM13.7 69h10.3v1h-10.3zM15.2 70h7.9v1h-7.9zM15.4 71h6.5v1h-6.5zM14.0 72h11.3v1h-11.3zM15.0 73h9.2v1h-9.2zM15.6 74h6.5v1h-6.5zM14.5 76h8.6v1h-8.6zM14.9 77h7.6v1h-7.6zM15.4 78h8.5v1h-8.5zM13.7 79h9.7v1h-9.7zM14.4 80h11.2v1h-11.2zM14.3 81h9.8v1h-9.8zM13.8 82h9.9v1h-9.9zM16.1 83h7.8v1h-7.8zM16.0 84h7.5v1h-7.5zM15.5 85h7.1v1h-7.1zM14.8 86h9.7v1h-9.7zM14.3 87h8.8v1h-8.8zM13.9 88h9.6v1h-9.6zM13.5 89h11.0v1h-11.0zM15.1 90h7.1v1h-7.1zM15.2 91h8.0v1h-8.0zM16.0 94h6.7v1h-6.7zM14.4 95h9.0v1h-9.0zM15.9 96h7.5v1h-7.5zM15.1 97h9.0v1h-9.0zM14.9 98h7.9v1h-7.9zM15.2 99h9.5v1h-9.5zM13.8 100h10.0v1h-10.0zM15.3 101h7.9v1h-7.9zM15.7 102h7.0v1h-7.0zM14.1 103h10.2v1h-10.2zM14.2 104h8.6v1h-8.6zM14.8 105h7.7v1h-7.7zM14.0 106h10.7v1h-10.7zM15.1 107h9.6v1h-9.6zM14.9 109h9.4v1h-9.4zM15.8 110h8.1v1h-8.1zM15.8 111h6.7v1h-6.7zM15.6 112h8.4v1h-8.4zM15.4 114h8.3v1h-8.3zM15.0 116h8.0v1h-8.0zM16.2 117h5.7v1h-5.7zM14.4 118h9.3v1h-9.3zM15.3 119h9.3v1h-9.3zM14.9 120h10.2v1h-10.2zM15.8 123h7.8v1h-7.8zM14.8 124h8.4v1h-8.4zM15.2 125h9.3v1h-9.3zM15.6 126h8.5v1h-8.5zM15.6 127h6.1v1h-6.1zM16.6 129h6.0v1h-6.0zM14.7 130h8.0v1h-8.0zM14.9 131h9.6v1h-9.6zM15.9 132h8.0v1h-8.0zM15.3 133h7.2v1h-7.2zM14.1 134h9.8v1h-9.8zM16.3 137h5.3v1h-5.3zM14.5 138h8.4v1h-8.4zM16.1 139h7.6v1h-7.6zM14.4 140h9.1v1h-9.1zM14.8 142h7.8v1h-7.8zM14.9 143h9.5v1h-9.5zM15.1 144h6.9v1h-6.9zM15.7 145h7.2v1h-7.2zM14.7 146h8.9v1h-8.9zM15.8 147h7.3v1h-7.3zM15.1 148h8.6v1h-8.6zM14.9 149h7.8v1h-7.8zM15.4 150h6.2v1h-6.2zM14.9 151h7.5v1h-7.5zM15.8 152h6.3v1h-6.3zM16.5 153h6.3v1h-6.3zM15.2 154h6.5v1h-6.5zM17.2 155h5.3v1h-5.3zM14.9 156h7.4v1h-7.4zM15.3 157h8.1v1h-8.1zM15.5 158h8.6v1h-8.6zM15.6 159h8.3v1h-8.3zM15.9 160h7.0v1h-7.0zM16.1 161h5.8v1h-5.8zM16.4 163h6.1v1h-6.1zM15.9 165h5.8v1h-5.8zM15.1 166h8.2v1h-8.2zM15.7 169h7.5v1h-7.5z"/>
<path fill="#f4c031" d="M12.1 3h12.9v1h-12.9zM13.9 13h9.8v1h-9.8zM13.1 15h13.8v1h-13.8zM11.8 21h13.6v1h-13.6zM12.9 30h11.6v1h-11.6zM13.4 31h13.3v1h-13.3zM14.0 41h11.0v1h-11.0zM14.3 60h10.4v1h-10.4zM16.0 75h6.4v1h-6.4zM14.7 92h10.7v1h-10.7zM15.7 93h7.0v1h-7.0zM14.5 108h9.1v1h-9.1zM16.6 113h6.2v1h-6.2zM14.1 115h9.5v1h-9.5zM16.9 121h5.8v1h-5.8zM14.5 122h10.2v1h-10.2zM16.1 128h6.5v1h-6.5zM15.8 135h6.7v1h-6.7zM16.1 136h5.7v1h-5.7zM15.4 141h6.6v1h-6.6zM17.1 162h5.5v1h-5.5zM15.1 164h7.0v1h-7.0zM16.0 167h5.5v1h-5.5zM16.6 168h6.2v1h-6.2zM16.3 170h6.6v1h-6.6zM15.2 171h7.2v1h-7.2zM16.7 172h6.1v1h-6.1zM16.7 173h5.3v1h-5.3zM16.8 174h4.8v1h-4.8zM16.0 175h5.2v1h-5.2zM14.9 176h7.2v1h-7.2zM15.8 178h5.5v1h-5.5z"/>
<path fill="#f5c743" d="M17.0 177h4.5v1h-4.5zM16.1 179h6.6v1h-6.6zM15.2 180h6.9v1h-6.9zM15.1 181h6.9v1h-6.9zM16.7 182h5.4v1h-5.4zM17.1 184h5.0v1h-5.0z"/>
<path fill="#f6ce55" d="M16.7 183h4.3v1h-4.3zM16.6 185h3.7v1h-3.7zM17.5 186h5.0v1h-5.0zM17.0 187h5.2v1h-5.2zM16.9 188h4.4v1h-4.4zM17.2 189h5.5v1h-5.5z"/>
<path fill="#f7d567" d="M17.0 190h5.1v1h-5.1zM17.8 191h4.2v1h-4.2zM18.1 192h3.2v1h-3.2zM17.2 193h2.9v1h-2.9zM16.9 194h3.9v1h-3.9z"/>
<path fill="#fdf2cc" d="M4.6 0h1.0v1h-1.0zM33.2 1h2.0v1h-2.0zM14.6 2h1.0v1h-1.0zM23.8 3h2.0v1h-2.0zM36.6 3h1.9v1h-1.9zM31.0 4h2.0v1h-2.0zM24.3 5h3.0v1h-3.0zM28.3 10h3.0v1h-3.0zM18.0 11h1.0v1h-1.0zM6.9 12h3.0v1h-3.0zM30.9 13h3.0v1h-3.0zM9.8 14h2.0v1h-2.0zM23.0 15h2.0v1h-2.0zM19.4 18h1.5v1h-1.5zM7.5 19h1.5v1h-1.5zM8.8 20h3.0v1h-3.0zM25.6 21h2.0v1h-2.0zM22.9 23h1.5v1h-1.5zM15.0 25h3.0v1h-3.0zM21.4 26h3.0v1h-3.0zM12.0 27h3.0v1h-3.0zM11.1 33h1.0v1h-1.0zM21.5 37h2.0v1h-2.0zM17.4 38h2.0v1h-2.0zM27.9 48h1.0v1h-1.0zM23.7 54h2.0v1h-2.0zM19.2 55h1.5v1h-1.5z"/>
<path fill="#f9e08c" d="M17.4 0h2.0v1h-2.0zM17.3 1h1.5v1h-1.5zM21.4 3h2.0v1h-2.0zM22.2 5h1.5v1h-1.5zM15.4 7h1.0v1h-1.0zM14.3 11h1.0v1h-1.0zM22.0 13h1.5v1h-1.5zM24.8 21h2.0v1h-2.0zM23.1 22h2.0v1h-2.0zM19.1 25h2.0v1h-2.0zM18.8 26h1.0v1h-1.0zM18.7 27h1.0v1h-1.0zM16.9 28h1.0v1h-1.0zM17.9 31h2.0v1h-2.0zM13.1 32h2.0v1h-2.0zM19.4 34h1.0v1h-1.0zM22.8 35h2.0v1h-2.0zM15.1 40h1.0v1h-1.0zM21.0 45h1.5v1h-1.5zM18.7 46h2.0v1h-2.0zM21.0 48h1.5v1h-1.5zM18.7 50h1.0v1h-1.0zM18.3 51h1.5v1h-1.5zM18.4 52h1.0v1h-1.0zM15.4 55h1.0v1h-1.0zM18.9 56h1.5v1h-1.5zM19.1 57h2.0v1h-2.0zM20.0 60h2.0v1h-2.0zM19.3 64h1.5v1h-1.5zM18.4 72h1.5v1h-1.5zM20.4 73h1.0v1h-1.0zM17.8 74h1.0v1h-1.0zM17.3 76h1.5v1h-1.5zM21.1 79h1.5v1h-1.5zM17.2 81h2.0v1h-2.0zM23.5 89h1.0v1h-1.0zM20.6 94h1.0v1h-1.0zM19.0 97h2.0v1h-2.0zM15.8 104h1.5v1h-1.5zM18.3 105h2.0v1h-2.0zM16.8 106h2.0v1h-2.0zM16.7 108h1.5v1h-1.5zM17.9 111h1.0v1h-1.0zM17.6 113h1.0v1h-1.0zM15.9 114h1.5v1h-1.5zM20.5 116h2.0v1h-2.0zM20.0 118h1.0v1h-1.0zM22.0 119h1.0v1h-1.0zM21.5 122h1.5v1h-1.5zM17.8 123h1.5v1h-1.5zM17.4 124h2.0v1h-2.0zM16.7 127h1.0v1h-1.0zM20.6 132h1.0v1h-1.0zM21.4 133h1.5v1h-1.5zM15.3 134h1.5v1h-1.5zM15.3 138h1.0v1h-1.0zM16.5 144h2.0v1h-2.0zM21.1 145h1.5v1h-1.5zM21.9 147h2.0v1h-2.0zM15.9 148h1.0v1h-1.0zM15.9 156h1.5v1h-1.5zM16.3 158h2.0v1h-2.0zM21.0 159h2.0v1h-2.0zM17.6 160h1.5v1h-1.5zM20.2 162h1.0v1h-1.0zM16.1 164h1.0v1h-1.0zM18.6 165h1.5v1h-1.5zM22.3 166h1.0v1h-1.0zM18.8 167h1.5v1h-1.5zM18.8 168h1.0v1h-1.0zM20.3 173h2.0v1h-2.0zM18.1 175h1.5v1h-1.5zM17.6 176h2.0v1h-2.0zM18.3 185h1.5v1h-1.5zM17.8 186h1.0v1h-1.0zM19.6 188h1.5v1h-1.5zM17.3 191h1.5v1h-1.5z"/>
</g>
</defs>
<text x="2.0" y="12.2" font-size="13" font-weight="bold" fill="#111" textLength="9.2" lengthAdjust="spacingAndGlyphs" stroke="#111" stroke-width="0.5">A</text>
<rect x="36.3" y="2.3" width="46" height="17" rx="1" fill="url(#pinkbox)" stroke="#3a3a3a" stroke-width="1.4"/>
<text x="47.6" y="13.9" font-size="7.2" font-weight="bold" fill="#111" textLength="22.5" lengthAdjust="spacingAndGlyphs" stroke="#111" stroke-width="0.25">FGFR1</text>
<rect x="111.3" y="2.3" width="46" height="17" rx="1" fill="url(#bluebox)" stroke="#3a3a3a" stroke-width="1.4"/>
<text x="118.8" y="13.9" font-size="7.2" font-weight="bold" fill="#111" textLength="31.2" lengthAdjust="spacingAndGlyphs" stroke="#111" stroke-width="0.25">H3K27ac</text>
<text x="29.9" y="30.0" font-size="7.2" font-weight="bold" fill="#111" textLength="17.4" lengthAdjust="spacingAndGlyphs" stroke="#111" stroke-width="0.25">Rep1</text>
<text x="68.0" y="30.0" font-size="7.2" font-weight="bold" fill="#111" textLength="17.6" lengthAdjust="spacingAndGlyphs" stroke="#111" stroke-width="0.25">Rep2</text>
<text x="106.1" y="30.0" font-size="7.2" font-weight="bold" fill="#111" textLength="17.9" lengthAdjust="spacingAndGlyphs" stroke="#111" stroke-width="0.25">Rep1</text>
<text x="145.3" y="30.0" font-size="7.2" font-weight="bold" fill="#111" textLength="17.8" lengthAdjust="spacingAndGlyphs" stroke="#111" stroke-width="0.25">Rep2</text>
<g filter="url(#soft)">
<use href="#rA" x="18.6" y="36.8"/>
<use href="#rA" x="57.2" y="36.8"/>
<use href="#bA" x="95.0" y="36.8"/>
<use href="#bA" x="133.6" y="36.8"/>
</g>
<line x1="18.6" y1="190.5" x2="95.0" y2="190.5" stroke="#7a4444" stroke-width="0.9"/>
<line x1="95.0" y1="190.5" x2="171.6" y2="190.5" stroke="#9090a0" stroke-width="0.6" opacity="0.6"/>
<line x1="57.2" y1="36.8" x2="57.2" y2="243.8" stroke="#5a5a5a" stroke-width="1.3"/>
<line x1="95.0" y1="36.8" x2="95.0" y2="243.8" stroke="#5a5a5a" stroke-width="1.3"/>
<line x1="133.6" y1="36.8" x2="133.6" y2="243.8" stroke="#5a5a5a" stroke-width="1.3"/>
<rect x="18.6" y="36.8" width="153.0" height="207" fill="none" stroke="#5a5a5a" stroke-width="1.4"/>
<rect x="12.3" y="222.3" width="3.6" height="21.1" fill="url(#cbR)" stroke="#e8caca" stroke-width="0.4"/>
<text x="7.8" y="225.8" font-size="5" font-weight="bold" fill="#111" stroke="#111" stroke-width="0.25">5</text>
<text x="7.8" y="243.2" font-size="5" font-weight="bold" fill="#111" stroke="#111" stroke-width="0.25">0</text>
<rect x="175.7" y="222.3" width="4" height="20.9" fill="url(#cbB)" stroke="#d0d0dc" stroke-width="0.4"/>
<text x="182.2" y="226.2" font-size="5" font-weight="bold" fill="#111" textLength="5.5" lengthAdjust="spacingAndGlyphs" stroke="#111" stroke-width="0.25">10</text>
<text x="182.2" y="243.0" font-size="5" font-weight="bold" fill="#111" stroke="#111" stroke-width="0.25">0</text>
<line x1="137.8" y1="248.4" x2="167.3" y2="248.4" stroke="#222" stroke-width="1.5"/>
<text x="148.0" y="256.9" font-size="8" font-weight="bold" fill="#111" textLength="12.0" lengthAdjust="spacingAndGlyphs" stroke="#111" stroke-width="0.1">5 kb</text>
<text x="1.8" y="300.6" font-size="13" font-weight="bold" fill="#111" textLength="9.0" lengthAdjust="spacingAndGlyphs" stroke="#111" stroke-width="0.5">C</text>
<rect x="32.2" y="288.6" width="52.5" height="17" rx="1" fill="url(#pinkbox)" stroke="#3a3a3a" stroke-width="1.4"/>
<text x="46.6" y="300.8" font-size="7.2" font-weight="bold" fill="#111" textLength="22.8" lengthAdjust="spacingAndGlyphs" stroke="#111" stroke-width="0.25">FGFR1</text>
<rect x="108.9" y="288.6" width="52.2" height="17" rx="1" fill="url(#yelbox)" stroke="#3a3a3a" stroke-width="1.4"/>
<text x="117.2" y="300.8" font-size="7.2" font-weight="bold" fill="#111" textLength="34.6" lengthAdjust="spacingAndGlyphs" stroke="#111" stroke-width="0.25">H3K4me3</text>
<text x="30.1" y="317.0" font-size="7.2" font-weight="bold" fill="#111" textLength="17.5" lengthAdjust="spacingAndGlyphs" stroke="#111" stroke-width="0.25">Rep1</text>
<text x="68.3" y="317.0" font-size="7.2" font-weight="bold" fill="#111" textLength="17.9" lengthAdjust="spacingAndGlyphs" stroke="#111" stroke-width="0.25">Rep2</text>
<text x="107.0" y="317.0" font-size="7.2" font-weight="bold" fill="#111" textLength="17.5" lengthAdjust="spacingAndGlyphs" stroke="#111" stroke-width="0.25">Rep1</text>
<text x="146.0" y="317.0" font-size="7.2" font-weight="bold" fill="#111" textLength="17.3" lengthAdjust="spacingAndGlyphs" stroke="#111" stroke-width="0.25">Rep2</text>
<g filter="url(#soft)">
<use href="#rC" x="18.6" y="322.6"/>
<use href="#rC" x="57.5" y="322.6"/>
<use href="#yC" x="95.6" y="322.6"/>
<use href="#yC" x="133.8" y="322.6"/>
</g>
<line x1="18.6" y1="477.4" x2="95.6" y2="477.4" stroke="#7a4444" stroke-width="0.9"/>
<line x1="57.5" y1="322.6" x2="57.5" y2="529.6" stroke="#5a5a5a" stroke-width="1.3"/>
<line x1="95.6" y1="322.6" x2="95.6" y2="529.6" stroke="#5a5a5a" stroke-width="1.3"/>
<line x1="133.8" y1="322.6" x2="133.8" y2="529.6" stroke="#5a5a5a" stroke-width="1.3"/>
<rect x="18.6" y="322.6" width="153.4" height="207" fill="none" stroke="#5a5a5a" stroke-width="1.4"/>
<rect x="12.6" y="507.9" width="3.8" height="21.4" fill="url(#cbR)" stroke="#e8caca" stroke-width="0.4"/>
<text x="7.8" y="511.5" font-size="5" font-weight="bold" fill="#111" stroke="#111" stroke-width="0.25">5</text>
<text x="7.8" y="528.6" font-size="5" font-weight="bold" fill="#111" stroke="#111" stroke-width="0.25">0</text>
<rect x="175.5" y="507.3" width="4" height="21.8" fill="url(#cbY)" stroke="#cfcfcf" stroke-width="0.5"/>
<text x="181.2" y="511.8" font-size="4.8" font-weight="bold" fill="#111" textLength="5.7" lengthAdjust="spacingAndGlyphs" stroke="#111" stroke-width="0.25">20</text>
<text x="181.0" y="528.5" font-size="5" font-weight="bold" fill="#111" stroke="#111" stroke-width="0.25">0</text>
<line x1="136.3" y1="535.6" x2="165.6" y2="535.6" stroke="#222" stroke-width="1.5"/>
<text x="147.0" y="544.0" font-size="8" font-weight="bold" fill="#111" textLength="12.4" lengthAdjust="spacingAndGlyphs" stroke="#111" stroke-width="0.1">5 kb</text>
<text x="192.6" y="12.4" font-size="13" font-weight="bold" fill="#111" textLength="8.3" lengthAdjust="spacingAndGlyphs" stroke="#111" stroke-width="0.5">B</text>
<text x="221.2" y="59.0" font-size="8" font-weight="bold" fill="#111" textLength="33.5" lengthAdjust="spacingAndGlyphs" stroke="#111" stroke-width="0.25">H3K27Ac</text>
<text x="212.8" y="68.4" font-size="7" font-weight="bold" fill="#111" textLength="48.2" lengthAdjust="spacingAndGlyphs" stroke="#111" stroke-width="0.25">(93,647 peaks)</text>
<ellipse cx="235.6" cy="116" rx="46.6" ry="41.3" fill="none" stroke="#5279aa" stroke-width="1.5"/>
<ellipse cx="253.5" cy="138.8" rx="17.8" ry="16" fill="none" stroke="#e0202c" stroke-width="1.8"/>
<text x="220.7" y="118.0" font-size="8.8" font-weight="bold" fill="#111" textLength="26.2" lengthAdjust="spacingAndGlyphs" stroke="#111" stroke-width="0.25">89,686</text>
<text x="242.8" y="141.9" font-size="8.8" font-weight="bold" fill="#111" textLength="20.9" lengthAdjust="spacingAndGlyphs" stroke="#111" stroke-width="0.25">3,961</text>
<line x1="266.5" y1="149.6" x2="278.5" y2="156.5" stroke="#666" stroke-width="0.9"/>
<text x="282.0" y="160.8" font-size="8.8" font-weight="bold" fill="#111" textLength="14.0" lengthAdjust="spacingAndGlyphs" stroke="#111" stroke-width="0.25">214</text>
<text x="248.5" y="168.7" font-size="8" font-weight="bold" fill="#111" textLength="18.5" lengthAdjust="spacingAndGlyphs" stroke="#111" stroke-width="0.25">FGFR1</text>
<text x="236.6" y="180.3" font-size="7" font-weight="bold" fill="#111" textLength="44.8" lengthAdjust="spacingAndGlyphs" stroke="#111" stroke-width="0.25">(4,175 peaks)</text>
<text x="195.1" y="300.6" font-size="13" font-weight="bold" fill="#111" textLength="8.8" lengthAdjust="spacingAndGlyphs" stroke="#111" stroke-width="0.5">D</text>
<text x="218.1" y="359.9" font-size="8.6" font-weight="bold" fill="#111" textLength="38.4" lengthAdjust="spacingAndGlyphs" stroke="#111" stroke-width="0.25">H3K4me3</text>
<text x="212.8" y="371.1" font-size="7.4" font-weight="bold" fill="#111" textLength="51.0" lengthAdjust="spacingAndGlyphs" stroke="#111" stroke-width="0.25">(34,309 peaks)</text>
<ellipse cx="235.4" cy="418" rx="44.2" ry="39.6" fill="none" stroke="#f2c224" stroke-width="1.9"/>
<ellipse cx="253.3" cy="437.6" rx="19.4" ry="17.2" fill="none" stroke="#e0202c" stroke-width="2"/>
<text x="218.6" y="418.3" font-size="8.8" font-weight="bold" fill="#111" textLength="29.1" lengthAdjust="spacingAndGlyphs" stroke="#111" stroke-width="0.25">30,254</text>
<text x="241.2" y="442.2" font-size="8.8" font-weight="bold" fill="#111" textLength="24.5" lengthAdjust="spacingAndGlyphs" stroke="#111" stroke-width="0.25">4,055</text>
<line x1="265.7" y1="452.3" x2="278" y2="458.8" stroke="#666" stroke-width="0.9"/>
<text x="280.0" y="461.8" font-size="9" font-weight="bold" fill="#111" textLength="15.9" lengthAdjust="spacingAndGlyphs" stroke="#111" stroke-width="0.25">210</text>
<text x="244.1" y="470.6" font-size="8.4" font-weight="bold" fill="#111" textLength="24.8" lengthAdjust="spacingAndGlyphs" stroke="#111" stroke-width="0.25">FGFR1</text>
<text x="232.7" y="481.5" font-size="7.4" font-weight="bold" fill="#111" textLength="46.0" lengthAdjust="spacingAndGlyphs" stroke="#111" stroke-width="0.25">(4,265 peaks)</text>
<text x="310.9" y="117.0" font-size="13" font-weight="bold" fill="#111" textLength="7.6" lengthAdjust="spacingAndGlyphs" stroke="#111" stroke-width="0.5">E</text>
<rect x="323.6" y="124.3" width="188.4" height="87.8" rx="1.5" fill="#fff" stroke="#333" stroke-width="1.3"/>
<text transform="translate(336.0,165.0) rotate(-90)" x="0" y="0" text-anchor="middle" font-size="8" fill="#111" stroke="#111" stroke-width="0.25" textLength="44.3" lengthAdjust="spacingAndGlyphs">Read density</text>
<line x1="354.3" y1="135.8" x2="354.3" y2="196.6" stroke="#aaa" stroke-width="0.9"/>
<text x="352.7" y="141.0" font-size="5.8" font-weight="normal" fill="#000" textLength="10.2" lengthAdjust="spacingAndGlyphs" text-anchor="end" stroke="#000" stroke-width="0.3">150</text>
<text x="352.7" y="155.8" font-size="5.8" font-weight="normal" fill="#000" textLength="3.3" lengthAdjust="spacingAndGlyphs" text-anchor="end" stroke="#000" stroke-width="0.3">0</text>
<line x1="354.3" y1="155.8" x2="512.0" y2="155.8" stroke="#8a8a8a" stroke-width="1.2"/>
<text x="352.7" y="161.4" font-size="5.8" font-weight="normal" fill="#000" textLength="10.2" lengthAdjust="spacingAndGlyphs" text-anchor="end" stroke="#000" stroke-width="0.3">300</text>
<text x="352.7" y="175.8" font-size="5.8" font-weight="normal" fill="#000" textLength="3.3" lengthAdjust="spacingAndGlyphs" text-anchor="end" stroke="#000" stroke-width="0.3">0</text>
<line x1="354.3" y1="175.8" x2="512.0" y2="175.8" stroke="#8a8a8a" stroke-width="1.2"/>
<text x="352.7" y="182.0" font-size="5.8" font-weight="normal" fill="#000" textLength="10.2" lengthAdjust="spacingAndGlyphs" text-anchor="end" stroke="#000" stroke-width="0.3">620</text>
<text x="352.7" y="196.6" font-size="5.8" font-weight="normal" fill="#000" textLength="3.3" lengthAdjust="spacingAndGlyphs" text-anchor="end" stroke="#000" stroke-width="0.3">0</text>
<line x1="354.3" y1="196.6" x2="512.0" y2="196.6" stroke="#8a8a8a" stroke-width="1.2"/>
<text x="391.4" y="149.1" font-size="8.6" font-weight="bold" fill="#111" textLength="27.9" lengthAdjust="spacingAndGlyphs" stroke="#111" stroke-width="0.25">FGFR1</text>
<text x="391.4" y="168.6" font-size="8.6" font-weight="bold" fill="#111" textLength="39.5" lengthAdjust="spacingAndGlyphs" stroke="#111" stroke-width="0.25">H3K27ac</text>
<text x="391.4" y="189.1" font-size="8.6" font-weight="bold" fill="#111" textLength="43.8" lengthAdjust="spacingAndGlyphs" stroke="#111" stroke-width="0.25">H3K4me3</text>
<text x="360.1" y="134.2" font-size="5.6" font-weight="normal" fill="#222" textLength="12.3" lengthAdjust="spacingAndGlyphs" stroke="#222" stroke-width="0.18">5 kb</text>
<line x1="376.6" y1="131.9" x2="424.5" y2="131.9" stroke="#555" stroke-width="0.8"/>
<line x1="376.6" y1="128.4" x2="376.6" y2="135.4" stroke="#555" stroke-width="0.9"/>
<line x1="424.5" y1="128.4" x2="424.5" y2="135.4" stroke="#555" stroke-width="0.9"/>
<text x="429.0" y="134.2" font-size="5.6" font-weight="normal" fill="#222" textLength="14.8" lengthAdjust="spacingAndGlyphs" stroke="#222" stroke-width="0.18">hg38</text>
<polygon points="471.0,155.6 472.6,153.5 474.0,155.6 477.0,155.6 478.8,137.5 480.8,155.6" fill="#8c1414"/>
<polygon points="359.0,175.6 362.0,174.4 366.0,174.8 370.0,174.3 376.0,175.6" fill="#1414c8"/>
<polygon points="461.0,175.5 466.0,172.0 469.0,168.0 471.0,165.0 472.5,171.0 474.6,162.7 476.0,170.5 477.3,168.0 478.5,171.0 480.0,162.0 482.0,156.5 484.0,166.0 487.0,175.5" fill="#1414c8"/>
<polygon points="459.5,196.2 463.0,193.0 466.5,189.0 468.0,180.0 469.5,179.5 471.0,181.0 472.0,190.0 473.5,191.0 474.5,180.5 476.0,181.0 477.0,190.0 478.5,189.0 480.0,181.0 481.0,177.5 482.5,177.8 484.0,183.0 485.5,193.0 487.4,196.2" fill="#f5c814"/>
<line x1="354.5" y1="209.2" x2="471" y2="209.2" stroke="#556" stroke-width="1" stroke-dasharray="1.5 1"/>
<rect x="471" y="207.7" width="7.5" height="3" fill="#111"/>
<path d="M470.8 209 V202.4 H464" fill="none" stroke="#111" stroke-width="0.9"/>
<polygon points="462.0,202.4 465.0,200.6 465.0,204.2" fill="#111"/>
<text x="481.3" y="210.6" font-size="4.2" font-weight="normal" fill="#222" textLength="19.2" lengthAdjust="spacingAndGlyphs" stroke="#222" stroke-width="0.18">CREBBP</text>
<rect x="323.6" y="216.9" width="188.4" height="87.9" rx="1.5" fill="#fff" stroke="#333" stroke-width="1.3"/>
<text transform="translate(336.0,256.2) rotate(-90)" x="0" y="0" text-anchor="middle" font-size="8" fill="#111" stroke="#111" stroke-width="0.25" textLength="46" lengthAdjust="spacingAndGlyphs">Read density</text>
<line x1="353.3" y1="231.7" x2="353.3" y2="287.3" stroke="#aaa" stroke-width="0.9"/>
<text x="351.7" y="236.8" font-size="5.8" font-weight="normal" fill="#000" textLength="10.2" lengthAdjust="spacingAndGlyphs" text-anchor="end" stroke="#000" stroke-width="0.3">225</text>
<text x="351.7" y="249.3" font-size="5.8" font-weight="normal" fill="#000" textLength="3.3" lengthAdjust="spacingAndGlyphs" text-anchor="end" stroke="#000" stroke-width="0.3">0</text>
<line x1="353.3" y1="249.3" x2="508" y2="249.3" stroke="#8a8a8a" stroke-width="1.2"/>
<text x="351.7" y="255.0" font-size="5.8" font-weight="normal" fill="#000" textLength="10.2" lengthAdjust="spacingAndGlyphs" text-anchor="end" stroke="#000" stroke-width="0.3">390</text>
<text x="351.7" y="268.0" font-size="5.8" font-weight="normal" fill="#000" textLength="3.3" lengthAdjust="spacingAndGlyphs" text-anchor="end" stroke="#000" stroke-width="0.3">0</text>
<line x1="353.3" y1="268.0" x2="508" y2="268.0" stroke="#8a8a8a" stroke-width="1.2"/>
<text x="351.7" y="273.7" font-size="5.8" font-weight="normal" fill="#000" textLength="10.2" lengthAdjust="spacingAndGlyphs" text-anchor="end" stroke="#000" stroke-width="0.3">680</text>
<text x="351.7" y="287.3" font-size="5.8" font-weight="normal" fill="#000" textLength="3.3" lengthAdjust="spacingAndGlyphs" text-anchor="end" stroke="#000" stroke-width="0.3">0</text>
<line x1="353.3" y1="287.3" x2="508" y2="287.3" stroke="#8a8a8a" stroke-width="1.2"/>
<text x="446.5" y="241.0" font-size="8.6" font-weight="bold" fill="#111" textLength="27.5" lengthAdjust="spacingAndGlyphs" stroke="#111" stroke-width="0.25">FGFR1</text>
<text x="446.5" y="260.1" font-size="8.6" font-weight="bold" fill="#111" textLength="39.3" lengthAdjust="spacingAndGlyphs" stroke="#111" stroke-width="0.25">H3K27ac</text>
<text x="446.5" y="281.0" font-size="8.6" font-weight="bold" fill="#111" textLength="43.4" lengthAdjust="spacingAndGlyphs" stroke="#111" stroke-width="0.25">H3K4me3</text>
<text x="420.9" y="226.8" font-size="5.6" font-weight="normal" fill="#222" textLength="11.8" lengthAdjust="spacingAndGlyphs" stroke="#222" stroke-width="0.18">5 kb</text>
<line x1="436.3" y1="224.7" x2="487.8" y2="224.7" stroke="#555" stroke-width="0.8"/>
<line x1="436.3" y1="221.2" x2="436.3" y2="228.2" stroke="#555" stroke-width="0.9"/>
<line x1="487.8" y1="221.2" x2="487.8" y2="228.2" stroke="#555" stroke-width="0.9"/>
<text x="490.8" y="226.8" font-size="5.6" font-weight="normal" fill="#222" textLength="14.8" lengthAdjust="spacingAndGlyphs" stroke="#222" stroke-width="0.18">hg38</text>
<polygon points="391.0,249.3 392.7,231.6 394.0,244.0 395.5,248.0 400.0,249.3" fill="#8c1414"/>
<polygon points="393.4,268.0 394.5,258.0 395.6,251.0 397.0,256.0 398.5,256.5 400.0,255.0 402.0,259.0 404.0,263.0 406.0,264.5 407.0,263.5 409.5,266.5 414.0,268.0" fill="#1414c8"/>
<polygon points="393.4,287.3 394.4,275.0 395.5,269.7 398.0,271.0 400.5,269.6 402.5,271.0 405.0,276.0 408.0,280.0 411.0,284.0 415.4,287.3" fill="#f5c814"/>
<line x1="397" y1="300" x2="508" y2="300" stroke="#3535a0" stroke-width="1" stroke-dasharray="1.3 0.8"/>
<polygon points="393.0,300.0 397.5,297.5 397.5,302.5" fill="#1a1a90"/>
<path d="M396.4 296.4 V291.2 H403.5" fill="none" stroke="#111" stroke-width="0.9"/>
<polygon points="406.0,291.2 403.0,289.4 403.0,293.0" fill="#111"/>
<text x="378.8" y="301.5" font-size="4.2" font-weight="normal" fill="#1a1a90" textLength="12.9" lengthAdjust="spacingAndGlyphs" stroke="#1a1a90" stroke-width="0.18">KDM5B</text>
<rect x="323.6" y="308.4" width="188.4" height="89.60000000000002" rx="1.5" fill="#fff" stroke="#333" stroke-width="1.3"/>
<text transform="translate(336.0,350.3) rotate(-90)" x="0" y="0" text-anchor="middle" font-size="9" fill="#111" stroke="#111" stroke-width="0.25" textLength="50" lengthAdjust="spacingAndGlyphs">Read density</text>
<line x1="353.7" y1="321" x2="353.7" y2="380.6" stroke="#aaa" stroke-width="0.9"/>
<text x="352.1" y="327.7" font-size="5.8" font-weight="normal" fill="#000" textLength="10.2" lengthAdjust="spacingAndGlyphs" text-anchor="end" stroke="#000" stroke-width="0.3">170</text>
<text x="352.1" y="340.3" font-size="5.8" font-weight="normal" fill="#000" textLength="3.3" lengthAdjust="spacingAndGlyphs" text-anchor="end" stroke="#000" stroke-width="0.3">0</text>
<line x1="353.7" y1="340.3" x2="505" y2="340.3" stroke="#8a8a8a" stroke-width="1.2"/>
<text x="352.1" y="346.8" font-size="5.8" font-weight="normal" fill="#000" textLength="10.2" lengthAdjust="spacingAndGlyphs" text-anchor="end" stroke="#000" stroke-width="0.3">260</text>
<text x="352.1" y="360.3" font-size="5.8" font-weight="normal" fill="#000" textLength="3.3" lengthAdjust="spacingAndGlyphs" text-anchor="end" stroke="#000" stroke-width="0.3">0</text>
<line x1="353.7" y1="360.3" x2="505" y2="360.3" stroke="#8a8a8a" stroke-width="1.2"/>
<text x="352.1" y="366.8" font-size="5.8" font-weight="normal" fill="#000" textLength="10.2" lengthAdjust="spacingAndGlyphs" text-anchor="end" stroke="#000" stroke-width="0.3">650</text>
<text x="352.1" y="380.6" font-size="5.8" font-weight="normal" fill="#000" textLength="3.3" lengthAdjust="spacingAndGlyphs" text-anchor="end" stroke="#000" stroke-width="0.3">0</text>
<line x1="353.7" y1="380.6" x2="505" y2="380.6" stroke="#8a8a8a" stroke-width="1.2"/>
<text x="444.6" y="333.3" font-size="8.6" font-weight="bold" fill="#111" textLength="28.8" lengthAdjust="spacingAndGlyphs" stroke="#111" stroke-width="0.25">FGFR1</text>
<text x="444.6" y="352.6" font-size="8.6" font-weight="bold" fill="#111" textLength="40.0" lengthAdjust="spacingAndGlyphs" stroke="#111" stroke-width="0.25">H3K27ac</text>
<text x="444.6" y="373.8" font-size="8.6" font-weight="bold" fill="#111" textLength="44.5" lengthAdjust="spacingAndGlyphs" stroke="#111" stroke-width="0.25">H3K4me3</text>
<text x="412.3" y="318.6" font-size="5.6" font-weight="normal" fill="#222" textLength="15.4" lengthAdjust="spacingAndGlyphs" stroke="#222" stroke-width="0.18">10 kb</text>
<line x1="432.5" y1="316.5" x2="487.1" y2="316.5" stroke="#555" stroke-width="0.8"/>
<line x1="432.5" y1="313.0" x2="432.5" y2="320.0" stroke="#555" stroke-width="0.9"/>
<line x1="487.1" y1="313.0" x2="487.1" y2="320.0" stroke="#555" stroke-width="0.9"/>
<text x="492.0" y="318.6" font-size="5.6" font-weight="normal" fill="#222" textLength="14.8" lengthAdjust="spacingAndGlyphs" stroke="#222" stroke-width="0.18">hg38</text>
<polygon points="368.5,340.3 370.0,321.5 371.5,340.3" fill="#8c1414"/>
<polygon points="367.4,360.5 368.2,356.0 369.0,353.0 370.0,358.0 371.0,355.0 372.3,341.8 373.5,350.0 375.0,353.0 376.5,351.0 378.0,355.0 379.5,354.0 381.0,356.5 382.0,355.5 383.5,358.5 388.0,360.5" fill="#1414c8"/>
<polygon points="368.2,380.4 368.6,372.0 369.5,378.0 371.0,370.0 372.6,361.7 374.0,367.0 375.0,365.0 376.0,366.0 377.5,369.0 379.0,365.5 380.2,368.0 382.0,372.0 384.0,376.0 388.0,380.4" fill="#f5c814"/>
<line x1="380" y1="394.4" x2="505" y2="394.4" stroke="#3535a0" stroke-width="1" stroke-dasharray="1.3 0.8"/>
<polygon points="370.0,394.4 374.0,392.3 374.0,396.5" fill="#1a1a90"/>
<rect x="373.5" y="392.4" width="7" height="4" rx="1" fill="#1a1a90"/>
<rect x="422.3" y="392.6" width="4.6" height="3.6" fill="#1a1a90"/>
<path d="M375.7 391.3 V385.1 H382.5" fill="none" stroke="#111" stroke-width="0.9"/>
<polygon points="385.5,385.1 382.3,383.2 382.3,387.0" fill="#111"/>
<text x="356.5" y="395.9" font-size="4.2" font-weight="normal" fill="#1a1a90" textLength="13.0" lengthAdjust="spacingAndGlyphs" stroke="#1a1a90" stroke-width="0.18">CDH12</text>
</svg>
</body></html>
